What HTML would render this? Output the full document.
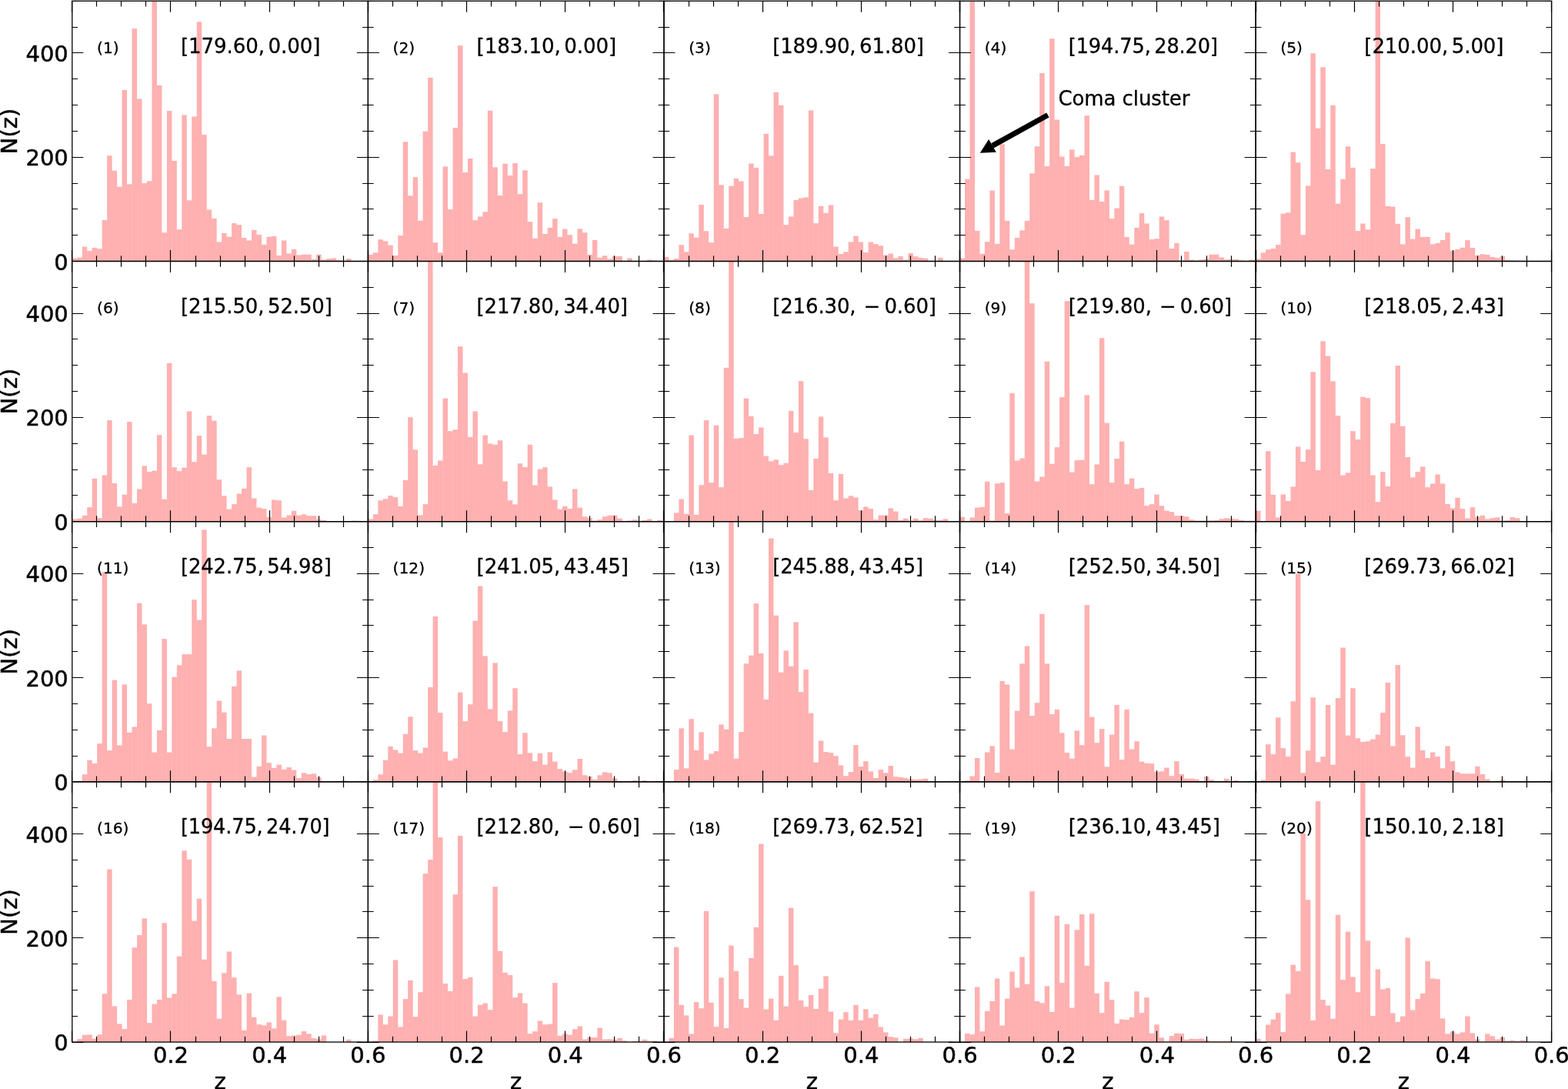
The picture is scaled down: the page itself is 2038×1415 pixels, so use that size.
<!DOCTYPE html>
<html lang="en"><head><meta charset="utf-8"><title>N(z) histograms</title>
<style>html,body{margin:0;padding:0;background:#fff}body{width:2038px;height:1415px;overflow:hidden}svg{display:block}text{font-family:"DejaVu Sans","Liberation Sans",sans-serif;fill:#000}.t{font-size:29.00px;stroke:#000;stroke-width:.5px}.l{font-size:26.00px;stroke:#000;stroke-width:.3px;letter-spacing:-.1px}.n{font-size:20.20px;stroke:#000;stroke-width:.3px}.b rect{fill:#ff0000;fill-opacity:.31}.sp{fill:none;stroke:#000;stroke-width:1.3}.mj{stroke:#000;stroke-width:1.2;fill:none}.mn{stroke:#000;stroke-width:1.15;fill:none}</style></head><body>
<svg width="2038" height="1415" viewBox="0 0 2038 1415">
<rect width="2038" height="1415" fill="#fff"/>
<g class="b">
<rect x="93.80" y="335.76" width="6.48" height="3.72"/>
<rect x="100.28" y="334.74" width="6.48" height="4.73"/>
<rect x="106.76" y="320.54" width="6.48" height="18.94"/>
<rect x="113.23" y="325.95" width="6.48" height="13.53"/>
<rect x="119.71" y="321.89" width="6.48" height="17.59"/>
<rect x="126.19" y="323.24" width="6.48" height="16.23"/>
<rect x="132.67" y="286.04" width="6.48" height="53.43"/>
<rect x="139.15" y="202.18" width="6.48" height="137.30"/>
<rect x="145.62" y="221.79" width="6.48" height="117.68"/>
<rect x="152.10" y="242.76" width="6.48" height="96.72"/>
<rect x="158.58" y="116.96" width="6.48" height="222.52"/>
<rect x="165.06" y="239.38" width="6.48" height="100.10"/>
<rect x="171.54" y="37.15" width="6.48" height="302.33"/>
<rect x="178.01" y="128.45" width="6.48" height="211.02"/>
<rect x="184.49" y="238.02" width="6.48" height="101.45"/>
<rect x="190.97" y="235.32" width="6.48" height="104.16"/>
<rect x="197.45" y="1.30" width="6.48" height="338.18"/>
<rect x="203.93" y="110.87" width="6.48" height="228.61"/>
<rect x="210.40" y="302.28" width="6.48" height="37.20"/>
<rect x="216.88" y="144.01" width="6.48" height="195.47"/>
<rect x="223.36" y="208.94" width="6.48" height="130.54"/>
<rect x="229.84" y="298.22" width="6.48" height="41.26"/>
<rect x="236.32" y="149.42" width="6.48" height="190.05"/>
<rect x="242.79" y="260.34" width="6.48" height="79.13"/>
<rect x="249.27" y="151.45" width="6.48" height="188.03"/>
<rect x="255.75" y="28.35" width="6.48" height="311.12"/>
<rect x="262.23" y="175.12" width="6.48" height="164.35"/>
<rect x="268.71" y="272.52" width="6.48" height="66.96"/>
<rect x="275.18" y="284.01" width="6.48" height="55.46"/>
<rect x="281.66" y="314.45" width="6.48" height="25.02"/>
<rect x="288.14" y="302.95" width="6.48" height="36.52"/>
<rect x="294.62" y="307.69" width="6.48" height="31.79"/>
<rect x="301.10" y="290.10" width="6.48" height="49.37"/>
<rect x="307.57" y="292.13" width="6.48" height="47.34"/>
<rect x="314.05" y="309.04" width="6.48" height="30.44"/>
<rect x="320.53" y="312.42" width="6.48" height="27.05"/>
<rect x="327.01" y="298.89" width="6.48" height="40.58"/>
<rect x="333.49" y="304.98" width="6.48" height="34.49"/>
<rect x="339.96" y="317.83" width="6.48" height="21.64"/>
<rect x="346.44" y="307.69" width="6.48" height="31.79"/>
<rect x="352.92" y="307.01" width="6.48" height="32.46"/>
<rect x="359.40" y="332.04" width="6.48" height="7.44"/>
<rect x="365.88" y="312.42" width="6.48" height="27.05"/>
<rect x="372.35" y="329.33" width="6.48" height="10.15"/>
<rect x="378.83" y="323.92" width="6.48" height="15.56"/>
<rect x="385.31" y="331.36" width="6.48" height="8.12"/>
<rect x="391.79" y="330.68" width="6.48" height="8.79"/>
<rect x="398.27" y="330.68" width="6.48" height="8.79"/>
<rect x="404.74" y="336.77" width="6.48" height="2.71"/>
<rect x="411.22" y="330.68" width="6.48" height="8.79"/>
<rect x="417.70" y="337.45" width="6.48" height="2.03"/>
<rect x="424.18" y="336.09" width="6.48" height="3.38"/>
<rect x="430.66" y="335.42" width="6.48" height="4.06"/>
<rect x="437.13" y="338.12" width="6.48" height="1.35"/>
<rect x="450.09" y="336.09" width="6.48" height="3.38"/>
</g>
<path class="mj" d="M93.50 339.48v-14.50M93.50 1.30v14.50M221.50 339.48v-14.50M221.50 1.30v14.50M350.50 339.48v-14.50M350.50 1.30v14.50M478.50 339.48v-14.50M478.50 1.30v14.50M93.80 339.50h14.50M478.38 339.50h-14.50M93.80 204.50h14.50M478.38 204.50h-14.50M93.80 68.50h14.50M478.38 68.50h-14.50"/>
<path class="mn" d="M125.50 339.48v-7.30M125.50 1.30v7.30M157.50 339.48v-7.30M157.50 1.30v7.30M189.50 339.48v-7.30M189.50 1.30v7.30M254.50 339.48v-7.30M254.50 1.30v7.30M286.50 339.48v-7.30M286.50 1.30v7.30M318.50 339.48v-7.30M318.50 1.30v7.30M382.50 339.48v-7.30M382.50 1.30v7.30M414.50 339.48v-7.30M414.50 1.30v7.30M446.50 339.48v-7.30M446.50 1.30v7.30M93.80 305.50h7.30M478.38 305.50h-7.30M93.80 271.50h7.30M478.38 271.50h-7.30M93.80 238.50h7.30M478.38 238.50h-7.30M93.80 170.50h7.30M478.38 170.50h-7.30M93.80 136.50h7.30M478.38 136.50h-7.30M93.80 102.50h7.30M478.38 102.50h-7.30M93.80 35.50h7.30M478.38 35.50h-7.30M93.80 1.50h7.30M478.38 1.50h-7.30"/>
<rect class="sp" x="93.80" y="1.30" width="384.58" height="338.18"/>
<text class="n" x="126.00" y="68.80">(1)</text>
<text class="l" transform="translate(235.00 68.65) scale(1.0034 1.000)">[179.60,<tspan dx="4.6">0.00]</tspan></text>
<text class="t" text-anchor="end" x="88.80" y="350.58">0</text>
<text class="t" text-anchor="end" x="88.80" y="215.31">200</text>
<text class="t" text-anchor="end" x="88.80" y="80.03">400</text>
<text class="t" text-anchor="middle" transform="translate(22.00 170.39) rotate(-90)">N(z)</text>
<g class="b">
<rect x="478.38" y="330.95" width="6.48" height="8.52"/>
<rect x="484.86" y="328.25" width="6.48" height="11.23"/>
<rect x="491.34" y="311.14" width="6.48" height="28.34"/>
<rect x="497.81" y="313.37" width="6.48" height="26.11"/>
<rect x="504.29" y="318.58" width="6.48" height="20.90"/>
<rect x="510.77" y="332.04" width="6.48" height="7.44"/>
<rect x="517.25" y="306.00" width="6.48" height="33.48"/>
<rect x="523.73" y="184.25" width="6.48" height="155.22"/>
<rect x="530.20" y="254.25" width="6.48" height="85.22"/>
<rect x="536.68" y="230.24" width="6.48" height="109.23"/>
<rect x="543.16" y="286.72" width="6.48" height="52.76"/>
<rect x="549.64" y="170.66" width="6.48" height="168.82"/>
<rect x="556.12" y="100.93" width="6.48" height="238.55"/>
<rect x="562.59" y="315.13" width="6.48" height="24.35"/>
<rect x="569.07" y="328.25" width="6.48" height="11.23"/>
<rect x="575.55" y="216.38" width="6.48" height="123.10"/>
<rect x="582.03" y="272.04" width="6.48" height="67.43"/>
<rect x="588.51" y="165.99" width="6.48" height="173.48"/>
<rect x="594.98" y="59.13" width="6.48" height="280.35"/>
<rect x="601.46" y="224.09" width="6.48" height="115.39"/>
<rect x="607.94" y="206.03" width="6.48" height="133.44"/>
<rect x="614.42" y="286.18" width="6.48" height="53.30"/>
<rect x="620.90" y="281.44" width="6.48" height="58.03"/>
<rect x="627.37" y="275.29" width="6.48" height="64.19"/>
<rect x="633.85" y="143.74" width="6.48" height="195.74"/>
<rect x="640.33" y="217.39" width="6.48" height="122.08"/>
<rect x="646.81" y="254.05" width="6.48" height="85.42"/>
<rect x="653.29" y="212.73" width="6.48" height="126.75"/>
<rect x="659.76" y="228.08" width="6.48" height="111.39"/>
<rect x="666.24" y="211.98" width="6.48" height="127.49"/>
<rect x="672.72" y="252.29" width="6.48" height="87.18"/>
<rect x="679.20" y="221.38" width="6.48" height="118.09"/>
<rect x="685.68" y="288.14" width="6.48" height="51.33"/>
<rect x="692.15" y="309.72" width="6.48" height="29.76"/>
<rect x="698.63" y="263.18" width="6.48" height="76.29"/>
<rect x="705.11" y="303.97" width="6.48" height="35.51"/>
<rect x="711.59" y="295.85" width="6.48" height="43.62"/>
<rect x="718.07" y="284.22" width="6.48" height="55.26"/>
<rect x="724.54" y="307.96" width="6.48" height="31.52"/>
<rect x="731.02" y="297.54" width="6.48" height="41.93"/>
<rect x="737.50" y="305.25" width="6.48" height="34.22"/>
<rect x="743.98" y="316.61" width="6.48" height="22.86"/>
<rect x="750.46" y="297.34" width="6.48" height="42.14"/>
<rect x="756.93" y="302.28" width="6.48" height="37.20"/>
<rect x="763.41" y="330.95" width="6.48" height="8.52"/>
<rect x="769.89" y="311.88" width="6.48" height="27.60"/>
<rect x="776.37" y="334.88" width="6.48" height="4.60"/>
<rect x="782.85" y="332.17" width="6.48" height="7.30"/>
<rect x="789.32" y="336.43" width="6.48" height="3.04"/>
<rect x="795.80" y="332.91" width="6.48" height="6.56"/>
<rect x="802.28" y="332.91" width="6.48" height="6.56"/>
<rect x="815.24" y="335.42" width="6.48" height="4.06"/>
<rect x="841.15" y="337.45" width="6.48" height="2.03"/>
<rect x="847.63" y="338.46" width="6.48" height="1.01"/>
</g>
<path class="mj" d="M478.50 339.48v-14.50M478.50 1.30v14.50M606.50 339.48v-14.50M606.50 1.30v14.50M734.50 339.48v-14.50M734.50 1.30v14.50M862.50 339.48v-14.50M862.50 1.30v14.50M478.38 339.50h14.50M862.96 339.50h-14.50M478.38 204.50h14.50M862.96 204.50h-14.50M478.38 68.50h14.50M862.96 68.50h-14.50"/>
<path class="mn" d="M510.50 339.48v-7.30M510.50 1.30v7.30M542.50 339.48v-7.30M542.50 1.30v7.30M574.50 339.48v-7.30M574.50 1.30v7.30M638.50 339.48v-7.30M638.50 1.30v7.30M670.50 339.48v-7.30M670.50 1.30v7.30M702.50 339.48v-7.30M702.50 1.30v7.30M766.50 339.48v-7.30M766.50 1.30v7.30M798.50 339.48v-7.30M798.50 1.30v7.30M830.50 339.48v-7.30M830.50 1.30v7.30M478.38 305.50h7.30M862.96 305.50h-7.30M478.38 271.50h7.30M862.96 271.50h-7.30M478.38 238.50h7.30M862.96 238.50h-7.30M478.38 170.50h7.30M862.96 170.50h-7.30M478.38 136.50h7.30M862.96 136.50h-7.30M478.38 102.50h7.30M862.96 102.50h-7.30M478.38 35.50h7.30M862.96 35.50h-7.30M478.38 1.50h7.30M862.96 1.50h-7.30"/>
<rect class="sp" x="478.38" y="1.30" width="384.58" height="338.18"/>
<text class="n" x="510.58" y="68.80">(2)</text>
<text class="l" transform="translate(619.58 68.65) scale(1.0042 1.000)">[183.10,<tspan dx="4.6">0.00]</tspan></text>
<g class="b">
<rect x="862.96" y="333.93" width="6.48" height="5.55"/>
<rect x="869.44" y="337.45" width="6.48" height="2.03"/>
<rect x="875.92" y="335.89" width="6.48" height="3.58"/>
<rect x="882.39" y="318.10" width="6.48" height="21.37"/>
<rect x="888.87" y="327.30" width="6.48" height="12.17"/>
<rect x="895.35" y="303.22" width="6.48" height="36.25"/>
<rect x="901.83" y="308.70" width="6.48" height="30.77"/>
<rect x="908.31" y="265.89" width="6.48" height="73.59"/>
<rect x="914.78" y="300.25" width="6.48" height="39.23"/>
<rect x="921.26" y="315.13" width="6.48" height="24.35"/>
<rect x="927.74" y="122.43" width="6.48" height="217.04"/>
<rect x="934.22" y="240.19" width="6.48" height="99.29"/>
<rect x="940.70" y="296.86" width="6.48" height="42.61"/>
<rect x="947.17" y="241.67" width="6.48" height="97.80"/>
<rect x="953.65" y="232.00" width="6.48" height="107.47"/>
<rect x="960.13" y="235.45" width="6.48" height="104.02"/>
<rect x="966.61" y="281.99" width="6.48" height="57.49"/>
<rect x="973.09" y="212.46" width="6.48" height="127.02"/>
<rect x="979.56" y="217.93" width="6.48" height="121.54"/>
<rect x="986.04" y="277.99" width="6.48" height="61.48"/>
<rect x="992.52" y="173.90" width="6.48" height="165.57"/>
<rect x="999.00" y="202.31" width="6.48" height="137.16"/>
<rect x="1005.48" y="119.93" width="6.48" height="219.54"/>
<rect x="1011.95" y="136.77" width="6.48" height="202.70"/>
<rect x="1018.43" y="292.13" width="6.48" height="47.34"/>
<rect x="1024.91" y="281.44" width="6.48" height="58.03"/>
<rect x="1031.39" y="259.94" width="6.48" height="79.54"/>
<rect x="1037.87" y="257.50" width="6.48" height="81.97"/>
<rect x="1044.34" y="256.49" width="6.48" height="82.99"/>
<rect x="1050.82" y="143.47" width="6.48" height="196.01"/>
<rect x="1057.30" y="290.10" width="6.48" height="49.37"/>
<rect x="1063.78" y="267.85" width="6.48" height="71.63"/>
<rect x="1070.26" y="276.78" width="6.48" height="62.70"/>
<rect x="1076.73" y="266.43" width="6.48" height="73.05"/>
<rect x="1083.21" y="320.54" width="6.48" height="18.94"/>
<rect x="1089.69" y="330.01" width="6.48" height="9.47"/>
<rect x="1096.17" y="327.30" width="6.48" height="12.17"/>
<rect x="1102.65" y="314.45" width="6.48" height="25.02"/>
<rect x="1109.12" y="306.67" width="6.48" height="32.80"/>
<rect x="1115.60" y="314.45" width="6.48" height="25.02"/>
<rect x="1122.08" y="327.98" width="6.48" height="11.50"/>
<rect x="1128.56" y="314.45" width="6.48" height="25.02"/>
<rect x="1135.04" y="317.16" width="6.48" height="22.32"/>
<rect x="1141.51" y="319.32" width="6.48" height="20.16"/>
<rect x="1147.99" y="331.70" width="6.48" height="7.78"/>
<rect x="1154.47" y="329.47" width="6.48" height="10.01"/>
<rect x="1160.95" y="335.42" width="6.48" height="4.06"/>
<rect x="1167.43" y="332.91" width="6.48" height="6.56"/>
<rect x="1173.90" y="337.45" width="6.48" height="2.03"/>
<rect x="1180.38" y="328.99" width="6.48" height="10.48"/>
<rect x="1186.86" y="333.18" width="6.48" height="6.29"/>
<rect x="1193.34" y="334.88" width="6.48" height="4.60"/>
<rect x="1199.82" y="335.62" width="6.48" height="3.86"/>
<rect x="1219.25" y="334.88" width="6.48" height="4.60"/>
</g>
<path class="mj" d="M862.50 339.48v-14.50M862.50 1.30v14.50M991.50 339.48v-14.50M991.50 1.30v14.50M1119.50 339.48v-14.50M1119.50 1.30v14.50M1247.50 339.48v-14.50M1247.50 1.30v14.50M862.96 339.50h14.50M1247.54 339.50h-14.50M862.96 204.50h14.50M1247.54 204.50h-14.50M862.96 68.50h14.50M1247.54 68.50h-14.50"/>
<path class="mn" d="M895.50 339.48v-7.30M895.50 1.30v7.30M927.50 339.48v-7.30M927.50 1.30v7.30M959.50 339.48v-7.30M959.50 1.30v7.30M1023.50 339.48v-7.30M1023.50 1.30v7.30M1055.50 339.48v-7.30M1055.50 1.30v7.30M1087.50 339.48v-7.30M1087.50 1.30v7.30M1151.50 339.48v-7.30M1151.50 1.30v7.30M1183.50 339.48v-7.30M1183.50 1.30v7.30M1215.50 339.48v-7.30M1215.50 1.30v7.30M862.96 305.50h7.30M1247.54 305.50h-7.30M862.96 271.50h7.30M1247.54 271.50h-7.30M862.96 238.50h7.30M1247.54 238.50h-7.30M862.96 170.50h7.30M1247.54 170.50h-7.30M862.96 136.50h7.30M1247.54 136.50h-7.30M862.96 102.50h7.30M1247.54 102.50h-7.30M862.96 35.50h7.30M1247.54 35.50h-7.30M862.96 1.50h7.30M1247.54 1.50h-7.30"/>
<rect class="sp" x="862.96" y="1.30" width="384.58" height="338.18"/>
<text class="n" x="895.16" y="68.80">(3)</text>
<text class="l" transform="translate(1004.16 68.65) scale(0.9981 1.000)">[189.90,<tspan dx="4.6">61.80]</tspan></text>
<g class="b">
<rect x="1247.54" y="335.62" width="6.48" height="3.86"/>
<rect x="1254.02" y="232.75" width="6.48" height="106.73"/>
<rect x="1260.50" y="1.30" width="6.48" height="338.18"/>
<rect x="1266.97" y="300.04" width="6.48" height="39.43"/>
<rect x="1273.45" y="329.74" width="6.48" height="9.74"/>
<rect x="1279.93" y="314.11" width="6.48" height="25.36"/>
<rect x="1286.41" y="247.56" width="6.48" height="91.92"/>
<rect x="1292.89" y="316.82" width="6.48" height="22.66"/>
<rect x="1299.36" y="187.30" width="6.48" height="152.18"/>
<rect x="1305.84" y="286.92" width="6.48" height="52.55"/>
<rect x="1312.32" y="324.26" width="6.48" height="15.22"/>
<rect x="1318.80" y="308.90" width="6.48" height="30.57"/>
<rect x="1325.28" y="299.30" width="6.48" height="40.18"/>
<rect x="1331.75" y="286.92" width="6.48" height="52.55"/>
<rect x="1338.23" y="225.31" width="6.48" height="114.17"/>
<rect x="1344.71" y="190.20" width="6.48" height="149.27"/>
<rect x="1351.19" y="94.97" width="6.48" height="244.50"/>
<rect x="1357.67" y="215.91" width="6.48" height="123.57"/>
<rect x="1364.14" y="50.20" width="6.48" height="289.27"/>
<rect x="1370.62" y="155.58" width="6.48" height="183.90"/>
<rect x="1377.10" y="203.53" width="6.48" height="135.95"/>
<rect x="1383.58" y="215.91" width="6.48" height="123.57"/>
<rect x="1390.06" y="194.40" width="6.48" height="145.08"/>
<rect x="1396.53" y="204.07" width="6.48" height="135.41"/>
<rect x="1403.01" y="201.84" width="6.48" height="137.64"/>
<rect x="1409.49" y="150.16" width="6.48" height="189.31"/>
<rect x="1415.97" y="259.94" width="6.48" height="79.54"/>
<rect x="1422.45" y="227.54" width="6.48" height="111.94"/>
<rect x="1428.92" y="261.97" width="6.48" height="77.51"/>
<rect x="1435.40" y="247.36" width="6.48" height="92.12"/>
<rect x="1441.88" y="284.22" width="6.48" height="55.26"/>
<rect x="1448.36" y="270.62" width="6.48" height="68.85"/>
<rect x="1454.84" y="241.67" width="6.48" height="97.80"/>
<rect x="1461.31" y="307.96" width="6.48" height="31.52"/>
<rect x="1467.79" y="317.56" width="6.48" height="21.91"/>
<rect x="1474.27" y="295.85" width="6.48" height="43.62"/>
<rect x="1480.75" y="277.05" width="6.48" height="62.43"/>
<rect x="1487.23" y="290.37" width="6.48" height="49.10"/>
<rect x="1493.70" y="311.14" width="6.48" height="28.34"/>
<rect x="1500.18" y="310.19" width="6.48" height="29.29"/>
<rect x="1506.66" y="281.44" width="6.48" height="58.03"/>
<rect x="1513.14" y="286.18" width="6.48" height="53.30"/>
<rect x="1519.62" y="323.04" width="6.48" height="16.44"/>
<rect x="1526.09" y="315.87" width="6.48" height="23.60"/>
<rect x="1532.57" y="338.46" width="6.48" height="1.01"/>
<rect x="1539.05" y="326.96" width="6.48" height="12.51"/>
<rect x="1545.53" y="337.65" width="6.48" height="1.83"/>
<rect x="1552.01" y="338.46" width="6.48" height="1.01"/>
<rect x="1558.48" y="337.45" width="6.48" height="2.03"/>
<rect x="1564.96" y="336.43" width="6.48" height="3.04"/>
<rect x="1571.44" y="330.68" width="6.48" height="8.79"/>
<rect x="1577.92" y="330.68" width="6.48" height="8.79"/>
<rect x="1584.40" y="334.40" width="6.48" height="5.07"/>
<rect x="1590.87" y="337.11" width="6.48" height="2.37"/>
<rect x="1597.35" y="337.11" width="6.48" height="2.37"/>
<rect x="1603.83" y="336.77" width="6.48" height="2.71"/>
<rect x="1610.31" y="338.46" width="6.48" height="1.01"/>
<rect x="1623.26" y="337.45" width="6.48" height="2.03"/>
<rect x="1629.74" y="338.12" width="2.38" height="1.35"/>
</g>
<path class="mj" d="M1247.50 339.48v-14.50M1247.50 1.30v14.50M1375.50 339.48v-14.50M1375.50 1.30v14.50M1503.50 339.48v-14.50M1503.50 1.30v14.50M1632.50 339.48v-14.50M1632.50 1.30v14.50M1247.54 339.50h14.50M1632.12 339.50h-14.50M1247.54 204.50h14.50M1632.12 204.50h-14.50M1247.54 68.50h14.50M1632.12 68.50h-14.50"/>
<path class="mn" d="M1279.50 339.48v-7.30M1279.50 1.30v7.30M1311.50 339.48v-7.30M1311.50 1.30v7.30M1343.50 339.48v-7.30M1343.50 1.30v7.30M1407.50 339.48v-7.30M1407.50 1.30v7.30M1439.50 339.48v-7.30M1439.50 1.30v7.30M1471.50 339.48v-7.30M1471.50 1.30v7.30M1535.50 339.48v-7.30M1535.50 1.30v7.30M1568.50 339.48v-7.30M1568.50 1.30v7.30M1600.50 339.48v-7.30M1600.50 1.30v7.30M1247.54 305.50h7.30M1632.12 305.50h-7.30M1247.54 271.50h7.30M1632.12 271.50h-7.30M1247.54 238.50h7.30M1632.12 238.50h-7.30M1247.54 170.50h7.30M1632.12 170.50h-7.30M1247.54 136.50h7.30M1632.12 136.50h-7.30M1247.54 102.50h7.30M1632.12 102.50h-7.30M1247.54 35.50h7.30M1632.12 35.50h-7.30M1247.54 1.50h7.30M1632.12 1.50h-7.30"/>
<rect class="sp" x="1247.54" y="1.30" width="384.58" height="338.18"/>
<text class="n" x="1279.74" y="68.80">(4)</text>
<text class="l" transform="translate(1388.74 68.65) scale(0.9852 1.000)">[194.75,<tspan dx="4.6">28.20]</tspan></text>
<g class="b">
<rect x="1632.12" y="336.43" width="6.48" height="3.04"/>
<rect x="1638.60" y="328.25" width="6.48" height="11.23"/>
<rect x="1645.08" y="324.26" width="6.48" height="15.22"/>
<rect x="1651.55" y="323.04" width="6.48" height="16.44"/>
<rect x="1658.03" y="318.10" width="6.48" height="21.37"/>
<rect x="1664.51" y="277.52" width="6.48" height="61.95"/>
<rect x="1670.99" y="276.30" width="6.48" height="63.17"/>
<rect x="1677.47" y="197.64" width="6.48" height="141.83"/>
<rect x="1683.94" y="211.24" width="6.48" height="128.24"/>
<rect x="1690.42" y="305.25" width="6.48" height="34.22"/>
<rect x="1696.90" y="241.40" width="6.48" height="98.07"/>
<rect x="1703.38" y="69.27" width="6.48" height="270.20"/>
<rect x="1709.86" y="166.74" width="6.48" height="172.74"/>
<rect x="1716.33" y="87.33" width="6.48" height="252.14"/>
<rect x="1722.81" y="219.90" width="6.48" height="119.58"/>
<rect x="1729.29" y="136.77" width="6.48" height="202.70"/>
<rect x="1735.77" y="264.67" width="6.48" height="74.80"/>
<rect x="1742.25" y="232.75" width="6.48" height="106.73"/>
<rect x="1748.72" y="190.20" width="6.48" height="149.27"/>
<rect x="1755.20" y="217.93" width="6.48" height="121.54"/>
<rect x="1761.68" y="300.04" width="6.48" height="39.43"/>
<rect x="1768.16" y="290.37" width="6.48" height="49.10"/>
<rect x="1774.64" y="298.29" width="6.48" height="41.19"/>
<rect x="1781.11" y="219.15" width="6.48" height="120.32"/>
<rect x="1787.59" y="1.30" width="6.48" height="338.18"/>
<rect x="1794.07" y="186.96" width="6.48" height="152.52"/>
<rect x="1800.55" y="267.85" width="6.48" height="71.63"/>
<rect x="1807.03" y="268.59" width="6.48" height="70.88"/>
<rect x="1813.50" y="290.85" width="6.48" height="48.63"/>
<rect x="1819.98" y="317.36" width="6.48" height="22.12"/>
<rect x="1826.46" y="282.19" width="6.48" height="57.29"/>
<rect x="1832.94" y="310.66" width="6.48" height="28.81"/>
<rect x="1839.42" y="297.54" width="6.48" height="41.93"/>
<rect x="1845.89" y="307.96" width="6.48" height="31.52"/>
<rect x="1852.37" y="307.96" width="6.48" height="31.52"/>
<rect x="1858.85" y="317.36" width="6.48" height="22.12"/>
<rect x="1865.33" y="315.87" width="6.48" height="23.60"/>
<rect x="1871.81" y="311.88" width="6.48" height="27.60"/>
<rect x="1878.28" y="302.28" width="6.48" height="37.20"/>
<rect x="1884.76" y="325.75" width="6.48" height="13.73"/>
<rect x="1891.24" y="323.99" width="6.48" height="15.49"/>
<rect x="1897.72" y="321.82" width="6.48" height="17.65"/>
<rect x="1904.20" y="312.15" width="6.48" height="27.32"/>
<rect x="1910.67" y="322.03" width="6.48" height="17.45"/>
<rect x="1917.15" y="331.90" width="6.48" height="7.58"/>
<rect x="1923.63" y="330.21" width="6.48" height="9.27"/>
<rect x="1930.11" y="330.95" width="6.48" height="8.52"/>
<rect x="1936.59" y="333.93" width="6.48" height="5.55"/>
<rect x="1943.06" y="335.15" width="6.48" height="4.33"/>
<rect x="1949.54" y="332.91" width="6.48" height="6.56"/>
<rect x="1956.02" y="337.65" width="6.48" height="1.83"/>
<rect x="1962.50" y="338.39" width="6.48" height="1.08"/>
<rect x="1968.98" y="338.60" width="6.48" height="0.88"/>
<rect x="1975.45" y="338.80" width="6.48" height="0.68"/>
</g>
<path class="mj" d="M1632.50 339.48v-14.50M1632.50 1.30v14.50M1760.50 339.48v-14.50M1760.50 1.30v14.50M1888.50 339.48v-14.50M1888.50 1.30v14.50M2016.50 339.48v-14.50M2016.50 1.30v14.50M1632.12 339.50h14.50M2016.70 339.50h-14.50M1632.12 204.50h14.50M2016.70 204.50h-14.50M1632.12 68.50h14.50M2016.70 68.50h-14.50"/>
<path class="mn" d="M1664.50 339.48v-7.30M1664.50 1.30v7.30M1696.50 339.48v-7.30M1696.50 1.30v7.30M1728.50 339.48v-7.30M1728.50 1.30v7.30M1792.50 339.48v-7.30M1792.50 1.30v7.30M1824.50 339.48v-7.30M1824.50 1.30v7.30M1856.50 339.48v-7.30M1856.50 1.30v7.30M1920.50 339.48v-7.30M1920.50 1.30v7.30M1952.50 339.48v-7.30M1952.50 1.30v7.30M1984.50 339.48v-7.30M1984.50 1.30v7.30M1632.12 305.50h7.30M2016.70 305.50h-7.30M1632.12 271.50h7.30M2016.70 271.50h-7.30M1632.12 238.50h7.30M2016.70 238.50h-7.30M1632.12 170.50h7.30M2016.70 170.50h-7.30M1632.12 136.50h7.30M2016.70 136.50h-7.30M1632.12 102.50h7.30M2016.70 102.50h-7.30M1632.12 35.50h7.30M2016.70 35.50h-7.30M1632.12 1.50h7.30M2016.70 1.50h-7.30"/>
<rect class="sp" x="1632.12" y="1.30" width="384.58" height="338.18"/>
<text class="n" x="1664.32" y="68.80">(5)</text>
<text class="l" transform="translate(1773.32 68.65) scale(1.0028 1.000)">[210.00,<tspan dx="4.6">5.00]</tspan></text>
<g class="b">
<rect x="93.80" y="674.40" width="6.48" height="3.25"/>
<rect x="100.28" y="673.66" width="6.48" height="3.99"/>
<rect x="106.76" y="669.74" width="6.48" height="7.91"/>
<rect x="113.23" y="659.12" width="6.48" height="18.53"/>
<rect x="119.71" y="621.78" width="6.48" height="55.87"/>
<rect x="126.19" y="673.19" width="6.48" height="4.46"/>
<rect x="132.67" y="617.52" width="6.48" height="60.13"/>
<rect x="139.15" y="546.03" width="6.48" height="131.62"/>
<rect x="145.62" y="627.94" width="6.48" height="49.71"/>
<rect x="152.10" y="658.37" width="6.48" height="19.28"/>
<rect x="158.58" y="642.75" width="6.48" height="34.90"/>
<rect x="165.06" y="548.06" width="6.48" height="129.59"/>
<rect x="171.54" y="653.91" width="6.48" height="23.74"/>
<rect x="178.01" y="635.38" width="6.48" height="42.27"/>
<rect x="184.49" y="605.42" width="6.48" height="72.23"/>
<rect x="190.97" y="613.13" width="6.48" height="64.52"/>
<rect x="197.45" y="611.64" width="6.48" height="66.01"/>
<rect x="203.93" y="565.11" width="6.48" height="112.54"/>
<rect x="210.40" y="648.70" width="6.48" height="28.95"/>
<rect x="216.88" y="471.84" width="6.48" height="205.81"/>
<rect x="223.36" y="607.17" width="6.48" height="70.48"/>
<rect x="229.84" y="612.11" width="6.48" height="65.54"/>
<rect x="236.32" y="607.65" width="6.48" height="70.00"/>
<rect x="242.79" y="534.47" width="6.48" height="143.18"/>
<rect x="249.27" y="600.21" width="6.48" height="77.44"/>
<rect x="255.75" y="566.12" width="6.48" height="111.53"/>
<rect x="262.23" y="590.60" width="6.48" height="87.05"/>
<rect x="268.71" y="540.15" width="6.48" height="137.50"/>
<rect x="275.18" y="546.57" width="6.48" height="131.08"/>
<rect x="281.66" y="623.20" width="6.48" height="54.45"/>
<rect x="288.14" y="644.24" width="6.48" height="33.41"/>
<rect x="294.62" y="661.55" width="6.48" height="16.10"/>
<rect x="301.10" y="655.13" width="6.48" height="22.52"/>
<rect x="307.57" y="641.53" width="6.48" height="36.12"/>
<rect x="314.05" y="634.84" width="6.48" height="42.81"/>
<rect x="320.53" y="607.17" width="6.48" height="70.48"/>
<rect x="327.01" y="647.48" width="6.48" height="30.17"/>
<rect x="333.49" y="659.59" width="6.48" height="18.06"/>
<rect x="339.96" y="661.08" width="6.48" height="16.57"/>
<rect x="346.44" y="671.97" width="6.48" height="5.68"/>
<rect x="352.92" y="649.45" width="6.48" height="28.20"/>
<rect x="359.40" y="650.19" width="6.48" height="27.46"/>
<rect x="365.88" y="672.44" width="6.48" height="5.21"/>
<rect x="372.35" y="669.53" width="6.48" height="8.12"/>
<rect x="378.83" y="663.78" width="6.48" height="13.87"/>
<rect x="385.31" y="669.53" width="6.48" height="8.12"/>
<rect x="391.79" y="668.25" width="6.48" height="9.40"/>
<rect x="398.27" y="670.21" width="6.48" height="7.44"/>
<rect x="404.74" y="670.21" width="6.48" height="7.44"/>
<rect x="411.22" y="674.94" width="6.48" height="2.71"/>
<rect x="417.70" y="675.96" width="6.48" height="1.69"/>
<rect x="456.57" y="676.43" width="6.48" height="1.22"/>
<rect x="463.05" y="676.64" width="6.48" height="1.01"/>
</g>
<path class="mj" d="M93.50 677.65v-14.50M93.50 339.48v14.50M221.50 677.65v-14.50M221.50 339.48v14.50M350.50 677.65v-14.50M350.50 339.48v14.50M478.50 677.65v-14.50M478.50 339.48v14.50M93.80 677.50h14.50M478.38 677.50h-14.50M93.80 542.50h14.50M478.38 542.50h-14.50M93.80 407.50h14.50M478.38 407.50h-14.50"/>
<path class="mn" d="M125.50 677.65v-7.30M125.50 339.48v7.30M157.50 677.65v-7.30M157.50 339.48v7.30M189.50 677.65v-7.30M189.50 339.48v7.30M254.50 677.65v-7.30M254.50 339.48v7.30M286.50 677.65v-7.30M286.50 339.48v7.30M318.50 677.65v-7.30M318.50 339.48v7.30M382.50 677.65v-7.30M382.50 339.48v7.30M414.50 677.65v-7.30M414.50 339.48v7.30M446.50 677.65v-7.30M446.50 339.48v7.30M93.80 643.50h7.30M478.38 643.50h-7.30M93.80 610.50h7.30M478.38 610.50h-7.30M93.80 576.50h7.30M478.38 576.50h-7.30M93.80 508.50h7.30M478.38 508.50h-7.30M93.80 474.50h7.30M478.38 474.50h-7.30M93.80 440.50h7.30M478.38 440.50h-7.30M93.80 373.50h7.30M478.38 373.50h-7.30M93.80 339.50h7.30M478.38 339.50h-7.30"/>
<rect class="sp" x="93.80" y="339.48" width="384.58" height="338.18"/>
<text class="n" x="126.00" y="406.98">(6)</text>
<text class="l" transform="translate(235.00 407.48) scale(0.9989 1.000)">[215.50,<tspan dx="4.6">52.50]</tspan></text>
<text class="t" text-anchor="end" x="88.80" y="688.75">0</text>
<text class="t" text-anchor="end" x="88.80" y="553.48">200</text>
<text class="t" text-anchor="end" x="88.80" y="418.21">400</text>
<text class="t" text-anchor="middle" transform="translate(22.00 508.56) rotate(-90)">N(z)</text>
<g class="b">
<rect x="478.38" y="674.40" width="6.48" height="3.25"/>
<rect x="484.86" y="668.25" width="6.48" height="9.40"/>
<rect x="491.34" y="650.19" width="6.48" height="27.46"/>
<rect x="497.81" y="648.23" width="6.48" height="29.42"/>
<rect x="504.29" y="644.04" width="6.48" height="33.61"/>
<rect x="510.77" y="646.00" width="6.48" height="31.65"/>
<rect x="517.25" y="657.83" width="6.48" height="19.82"/>
<rect x="523.73" y="623.95" width="6.48" height="53.70"/>
<rect x="530.20" y="542.11" width="6.48" height="135.54"/>
<rect x="536.68" y="584.38" width="6.48" height="93.27"/>
<rect x="543.16" y="669.53" width="6.48" height="8.12"/>
<rect x="549.64" y="655.13" width="6.48" height="22.52"/>
<rect x="556.12" y="339.48" width="6.48" height="338.18"/>
<rect x="562.59" y="604.94" width="6.48" height="72.71"/>
<rect x="569.07" y="598.52" width="6.48" height="79.13"/>
<rect x="575.55" y="517.63" width="6.48" height="160.02"/>
<rect x="582.03" y="560.17" width="6.48" height="117.48"/>
<rect x="588.51" y="558.21" width="6.48" height="119.44"/>
<rect x="594.98" y="450.13" width="6.48" height="227.52"/>
<rect x="601.46" y="484.48" width="6.48" height="193.17"/>
<rect x="607.94" y="567.81" width="6.48" height="109.84"/>
<rect x="614.42" y="534.47" width="6.48" height="143.18"/>
<rect x="620.90" y="603.25" width="6.48" height="74.40"/>
<rect x="627.37" y="565.58" width="6.48" height="112.07"/>
<rect x="633.85" y="576.47" width="6.48" height="101.18"/>
<rect x="640.33" y="577.75" width="6.48" height="99.90"/>
<rect x="646.81" y="572.27" width="6.48" height="105.38"/>
<rect x="653.29" y="625.44" width="6.48" height="52.21"/>
<rect x="659.76" y="650.19" width="6.48" height="27.46"/>
<rect x="666.24" y="655.40" width="6.48" height="22.25"/>
<rect x="672.72" y="602.24" width="6.48" height="75.41"/>
<rect x="679.20" y="606.90" width="6.48" height="70.75"/>
<rect x="685.68" y="577.75" width="6.48" height="99.90"/>
<rect x="692.15" y="630.44" width="6.48" height="47.21"/>
<rect x="698.63" y="609.61" width="6.48" height="68.04"/>
<rect x="705.11" y="607.17" width="6.48" height="70.48"/>
<rect x="711.59" y="632.40" width="6.48" height="45.25"/>
<rect x="718.07" y="649.45" width="6.48" height="28.20"/>
<rect x="724.54" y="661.55" width="6.48" height="16.10"/>
<rect x="731.02" y="657.83" width="6.48" height="19.82"/>
<rect x="737.50" y="661.08" width="6.48" height="16.57"/>
<rect x="743.98" y="635.38" width="6.48" height="42.27"/>
<rect x="750.46" y="659.59" width="6.48" height="18.06"/>
<rect x="756.93" y="671.22" width="6.48" height="6.43"/>
<rect x="763.41" y="673.19" width="6.48" height="4.46"/>
<rect x="769.89" y="676.43" width="6.48" height="1.22"/>
<rect x="776.37" y="675.15" width="6.48" height="2.50"/>
<rect x="782.85" y="671.22" width="6.48" height="6.43"/>
<rect x="789.32" y="669.74" width="6.48" height="7.91"/>
<rect x="795.80" y="669.53" width="6.48" height="8.12"/>
<rect x="802.28" y="673.66" width="6.48" height="3.99"/>
<rect x="808.76" y="676.97" width="6.48" height="0.68"/>
<rect x="815.24" y="676.43" width="6.48" height="1.22"/>
<rect x="821.71" y="675.15" width="6.48" height="2.50"/>
<rect x="828.19" y="676.64" width="6.48" height="1.01"/>
<rect x="834.67" y="675.96" width="6.48" height="1.69"/>
<rect x="841.15" y="674.40" width="6.48" height="3.25"/>
<rect x="854.10" y="675.96" width="6.48" height="1.69"/>
</g>
<path class="mj" d="M478.50 677.65v-14.50M478.50 339.48v14.50M606.50 677.65v-14.50M606.50 339.48v14.50M734.50 677.65v-14.50M734.50 339.48v14.50M862.50 677.65v-14.50M862.50 339.48v14.50M478.38 677.50h14.50M862.96 677.50h-14.50M478.38 542.50h14.50M862.96 542.50h-14.50M478.38 407.50h14.50M862.96 407.50h-14.50"/>
<path class="mn" d="M510.50 677.65v-7.30M510.50 339.48v7.30M542.50 677.65v-7.30M542.50 339.48v7.30M574.50 677.65v-7.30M574.50 339.48v7.30M638.50 677.65v-7.30M638.50 339.48v7.30M670.50 677.65v-7.30M670.50 339.48v7.30M702.50 677.65v-7.30M702.50 339.48v7.30M766.50 677.65v-7.30M766.50 339.48v7.30M798.50 677.65v-7.30M798.50 339.48v7.30M830.50 677.65v-7.30M830.50 339.48v7.30M478.38 643.50h7.30M862.96 643.50h-7.30M478.38 610.50h7.30M862.96 610.50h-7.30M478.38 576.50h7.30M862.96 576.50h-7.30M478.38 508.50h7.30M862.96 508.50h-7.30M478.38 474.50h7.30M862.96 474.50h-7.30M478.38 440.50h7.30M862.96 440.50h-7.30M478.38 373.50h7.30M862.96 373.50h-7.30M478.38 339.50h7.30M862.96 339.50h-7.30"/>
<rect class="sp" x="478.38" y="339.48" width="384.58" height="338.18"/>
<text class="n" x="510.58" y="406.98">(7)</text>
<text class="l" transform="translate(619.58 407.48) scale(0.9958 1.000)">[217.80,<tspan dx="4.6">34.40]</tspan></text>
<g class="b">
<rect x="862.96" y="677.11" width="6.48" height="0.54"/>
<rect x="869.44" y="677.11" width="6.48" height="0.54"/>
<rect x="875.92" y="666.29" width="6.48" height="11.36"/>
<rect x="882.39" y="648.50" width="6.48" height="29.15"/>
<rect x="888.87" y="667.78" width="6.48" height="9.87"/>
<rect x="895.35" y="565.58" width="6.48" height="112.07"/>
<rect x="901.83" y="668.99" width="6.48" height="8.66"/>
<rect x="908.31" y="630.17" width="6.48" height="47.48"/>
<rect x="914.78" y="546.03" width="6.48" height="131.62"/>
<rect x="921.26" y="627.19" width="6.48" height="50.46"/>
<rect x="927.74" y="552.73" width="6.48" height="124.92"/>
<rect x="934.22" y="633.15" width="6.48" height="44.50"/>
<rect x="940.70" y="477.79" width="6.48" height="199.86"/>
<rect x="947.17" y="339.48" width="6.48" height="338.18"/>
<rect x="953.65" y="569.84" width="6.48" height="107.81"/>
<rect x="960.13" y="569.10" width="6.48" height="108.55"/>
<rect x="966.61" y="517.63" width="6.48" height="160.02"/>
<rect x="973.09" y="540.89" width="6.48" height="136.76"/>
<rect x="979.56" y="564.09" width="6.48" height="113.56"/>
<rect x="986.04" y="555.43" width="6.48" height="122.22"/>
<rect x="992.52" y="592.57" width="6.48" height="85.08"/>
<rect x="999.00" y="599.26" width="6.48" height="78.39"/>
<rect x="1005.48" y="597.23" width="6.48" height="80.42"/>
<rect x="1011.95" y="604.20" width="6.48" height="73.45"/>
<rect x="1018.43" y="601.70" width="6.48" height="75.95"/>
<rect x="1024.91" y="533.93" width="6.48" height="143.72"/>
<rect x="1031.39" y="562.13" width="6.48" height="115.52"/>
<rect x="1037.87" y="495.10" width="6.48" height="182.55"/>
<rect x="1044.34" y="570.31" width="6.48" height="107.34"/>
<rect x="1050.82" y="636.87" width="6.48" height="40.78"/>
<rect x="1057.30" y="596.01" width="6.48" height="81.64"/>
<rect x="1063.78" y="541.37" width="6.48" height="136.28"/>
<rect x="1070.26" y="568.35" width="6.48" height="109.30"/>
<rect x="1076.73" y="614.82" width="6.48" height="62.83"/>
<rect x="1083.21" y="650.19" width="6.48" height="27.46"/>
<rect x="1089.69" y="615.83" width="6.48" height="61.82"/>
<rect x="1096.17" y="647.48" width="6.48" height="30.17"/>
<rect x="1102.65" y="644.24" width="6.48" height="33.41"/>
<rect x="1109.12" y="646.27" width="6.48" height="31.38"/>
<rect x="1115.60" y="663.04" width="6.48" height="14.61"/>
<rect x="1122.08" y="658.37" width="6.48" height="19.28"/>
<rect x="1128.56" y="661.08" width="6.48" height="16.57"/>
<rect x="1135.04" y="675.15" width="6.48" height="2.50"/>
<rect x="1141.51" y="669.53" width="6.48" height="8.12"/>
<rect x="1147.99" y="669.74" width="6.48" height="7.91"/>
<rect x="1154.47" y="660.34" width="6.48" height="17.31"/>
<rect x="1160.95" y="664.53" width="6.48" height="13.12"/>
<rect x="1167.43" y="675.96" width="6.48" height="1.69"/>
<rect x="1173.90" y="673.66" width="6.48" height="3.99"/>
<rect x="1180.38" y="676.43" width="6.48" height="1.22"/>
<rect x="1186.86" y="673.66" width="6.48" height="3.99"/>
<rect x="1193.34" y="676.16" width="6.48" height="1.49"/>
<rect x="1199.82" y="673.19" width="6.48" height="4.46"/>
<rect x="1206.29" y="673.66" width="6.48" height="3.99"/>
<rect x="1212.77" y="675.96" width="6.48" height="1.69"/>
<rect x="1219.25" y="675.69" width="6.48" height="1.96"/>
<rect x="1225.73" y="674.27" width="6.48" height="3.38"/>
</g>
<path class="mj" d="M862.50 677.65v-14.50M862.50 339.48v14.50M991.50 677.65v-14.50M991.50 339.48v14.50M1119.50 677.65v-14.50M1119.50 339.48v14.50M1247.50 677.65v-14.50M1247.50 339.48v14.50M862.96 677.50h14.50M1247.54 677.50h-14.50M862.96 542.50h14.50M1247.54 542.50h-14.50M862.96 407.50h14.50M1247.54 407.50h-14.50"/>
<path class="mn" d="M895.50 677.65v-7.30M895.50 339.48v7.30M927.50 677.65v-7.30M927.50 339.48v7.30M959.50 677.65v-7.30M959.50 339.48v7.30M1023.50 677.65v-7.30M1023.50 339.48v7.30M1055.50 677.65v-7.30M1055.50 339.48v7.30M1087.50 677.65v-7.30M1087.50 339.48v7.30M1151.50 677.65v-7.30M1151.50 339.48v7.30M1183.50 677.65v-7.30M1183.50 339.48v7.30M1215.50 677.65v-7.30M1215.50 339.48v7.30M862.96 643.50h7.30M1247.54 643.50h-7.30M862.96 610.50h7.30M1247.54 610.50h-7.30M862.96 576.50h7.30M1247.54 576.50h-7.30M862.96 508.50h7.30M1247.54 508.50h-7.30M862.96 474.50h7.30M1247.54 474.50h-7.30M862.96 440.50h7.30M1247.54 440.50h-7.30M862.96 373.50h7.30M1247.54 373.50h-7.30M862.96 339.50h7.30M1247.54 339.50h-7.30"/>
<rect class="sp" x="862.96" y="339.48" width="384.58" height="338.18"/>
<text class="n" x="895.16" y="406.98">(8)</text>
<text class="l" transform="translate(1004.16 407.48) scale(0.9983 1.000)">[216.30,<tspan dx="10.1">−</tspan><tspan dx="5.2">0.60]</tspan></text>
<g class="b">
<rect x="1247.54" y="671.70" width="6.48" height="5.95"/>
<rect x="1260.50" y="672.44" width="6.48" height="5.21"/>
<rect x="1266.97" y="659.59" width="6.48" height="18.06"/>
<rect x="1273.45" y="658.85" width="6.48" height="18.80"/>
<rect x="1279.93" y="625.71" width="6.48" height="51.94"/>
<rect x="1286.41" y="676.43" width="6.48" height="1.22"/>
<rect x="1292.89" y="628.21" width="6.48" height="49.44"/>
<rect x="1299.36" y="627.19" width="6.48" height="50.46"/>
<rect x="1305.84" y="667.03" width="6.48" height="10.62"/>
<rect x="1312.32" y="510.93" width="6.48" height="166.72"/>
<rect x="1318.80" y="598.52" width="6.48" height="79.13"/>
<rect x="1325.28" y="595.54" width="6.48" height="82.11"/>
<rect x="1331.75" y="339.48" width="6.48" height="338.18"/>
<rect x="1338.23" y="394.26" width="6.48" height="283.39"/>
<rect x="1344.71" y="625.44" width="6.48" height="52.21"/>
<rect x="1351.19" y="619.55" width="6.48" height="58.10"/>
<rect x="1357.67" y="469.67" width="6.48" height="207.98"/>
<rect x="1364.14" y="602.71" width="6.48" height="74.94"/>
<rect x="1370.62" y="581.20" width="6.48" height="96.45"/>
<rect x="1377.10" y="516.14" width="6.48" height="161.51"/>
<rect x="1383.58" y="391.28" width="6.48" height="286.37"/>
<rect x="1390.06" y="613.60" width="6.48" height="64.05"/>
<rect x="1396.53" y="598.04" width="6.48" height="79.61"/>
<rect x="1403.01" y="597.77" width="6.48" height="79.88"/>
<rect x="1409.49" y="513.43" width="6.48" height="164.22"/>
<rect x="1415.97" y="629.16" width="6.48" height="48.49"/>
<rect x="1422.45" y="603.45" width="6.48" height="74.20"/>
<rect x="1428.92" y="439.24" width="6.48" height="238.41"/>
<rect x="1435.40" y="549.55" width="6.48" height="128.10"/>
<rect x="1441.88" y="627.19" width="6.48" height="50.46"/>
<rect x="1448.36" y="596.01" width="6.48" height="81.64"/>
<rect x="1454.84" y="573.56" width="6.48" height="104.09"/>
<rect x="1461.31" y="629.16" width="6.48" height="48.49"/>
<rect x="1467.79" y="621.51" width="6.48" height="56.14"/>
<rect x="1474.27" y="635.11" width="6.48" height="42.54"/>
<rect x="1480.75" y="633.89" width="6.48" height="43.76"/>
<rect x="1487.23" y="657.16" width="6.48" height="20.49"/>
<rect x="1493.70" y="655.13" width="6.48" height="22.52"/>
<rect x="1500.18" y="642.55" width="6.48" height="35.10"/>
<rect x="1506.66" y="657.16" width="6.48" height="20.49"/>
<rect x="1513.14" y="663.58" width="6.48" height="14.07"/>
<rect x="1519.62" y="665.07" width="6.48" height="12.58"/>
<rect x="1526.09" y="670.21" width="6.48" height="7.44"/>
<rect x="1532.57" y="670.21" width="6.48" height="7.44"/>
<rect x="1539.05" y="671.22" width="6.48" height="6.43"/>
<rect x="1545.53" y="675.15" width="6.48" height="2.50"/>
<rect x="1552.01" y="676.43" width="6.48" height="1.22"/>
<rect x="1558.48" y="676.43" width="6.48" height="1.22"/>
<rect x="1564.96" y="676.43" width="6.48" height="1.22"/>
<rect x="1571.44" y="676.16" width="6.48" height="1.49"/>
<rect x="1577.92" y="675.96" width="6.48" height="1.69"/>
<rect x="1584.40" y="674.20" width="6.48" height="3.45"/>
<rect x="1590.87" y="673.19" width="6.48" height="4.46"/>
<rect x="1597.35" y="673.93" width="6.48" height="3.72"/>
<rect x="1603.83" y="674.40" width="6.48" height="3.25"/>
<rect x="1610.31" y="675.96" width="6.48" height="1.69"/>
<rect x="1616.79" y="676.64" width="6.48" height="1.01"/>
<rect x="1623.26" y="676.64" width="6.48" height="1.01"/>
</g>
<path class="mj" d="M1247.50 677.65v-14.50M1247.50 339.48v14.50M1375.50 677.65v-14.50M1375.50 339.48v14.50M1503.50 677.65v-14.50M1503.50 339.48v14.50M1632.50 677.65v-14.50M1632.50 339.48v14.50M1247.54 677.50h14.50M1632.12 677.50h-14.50M1247.54 542.50h14.50M1632.12 542.50h-14.50M1247.54 407.50h14.50M1632.12 407.50h-14.50"/>
<path class="mn" d="M1279.50 677.65v-7.30M1279.50 339.48v7.30M1311.50 677.65v-7.30M1311.50 339.48v7.30M1343.50 677.65v-7.30M1343.50 339.48v7.30M1407.50 677.65v-7.30M1407.50 339.48v7.30M1439.50 677.65v-7.30M1439.50 339.48v7.30M1471.50 677.65v-7.30M1471.50 339.48v7.30M1535.50 677.65v-7.30M1535.50 339.48v7.30M1568.50 677.65v-7.30M1568.50 339.48v7.30M1600.50 677.65v-7.30M1600.50 339.48v7.30M1247.54 643.50h7.30M1632.12 643.50h-7.30M1247.54 610.50h7.30M1632.12 610.50h-7.30M1247.54 576.50h7.30M1632.12 576.50h-7.30M1247.54 508.50h7.30M1632.12 508.50h-7.30M1247.54 474.50h7.30M1632.12 474.50h-7.30M1247.54 440.50h7.30M1632.12 440.50h-7.30M1247.54 373.50h7.30M1632.12 373.50h-7.30M1247.54 339.50h7.30M1632.12 339.50h-7.30"/>
<rect class="sp" x="1247.54" y="339.48" width="384.58" height="338.18"/>
<text class="n" x="1279.74" y="406.98">(9)</text>
<text class="l" transform="translate(1388.74 407.48) scale(0.9966 1.000)">[219.80,<tspan dx="10.1">−</tspan><tspan dx="5.2">0.60]</tspan></text>
<g class="b">
<rect x="1632.12" y="663.78" width="6.48" height="13.87"/>
<rect x="1645.08" y="586.14" width="6.48" height="91.51"/>
<rect x="1651.55" y="642.75" width="6.48" height="34.90"/>
<rect x="1658.03" y="672.44" width="6.48" height="5.21"/>
<rect x="1664.51" y="642.55" width="6.48" height="35.10"/>
<rect x="1670.99" y="650.93" width="6.48" height="26.72"/>
<rect x="1677.47" y="632.40" width="6.48" height="45.25"/>
<rect x="1683.94" y="580.46" width="6.48" height="97.19"/>
<rect x="1690.42" y="600.01" width="6.48" height="77.64"/>
<rect x="1696.90" y="584.18" width="6.48" height="93.47"/>
<rect x="1703.38" y="483.27" width="6.48" height="194.38"/>
<rect x="1709.86" y="610.89" width="6.48" height="66.76"/>
<rect x="1716.33" y="443.43" width="6.48" height="234.22"/>
<rect x="1722.81" y="462.71" width="6.48" height="214.94"/>
<rect x="1729.29" y="495.37" width="6.48" height="182.28"/>
<rect x="1735.77" y="540.15" width="6.48" height="137.50"/>
<rect x="1742.25" y="617.52" width="6.48" height="60.13"/>
<rect x="1748.72" y="614.34" width="6.48" height="63.31"/>
<rect x="1755.20" y="560.17" width="6.48" height="117.48"/>
<rect x="1761.68" y="571.06" width="6.48" height="106.59"/>
<rect x="1768.16" y="515.66" width="6.48" height="161.99"/>
<rect x="1774.64" y="517.15" width="6.48" height="160.50"/>
<rect x="1781.11" y="617.52" width="6.48" height="60.13"/>
<rect x="1787.59" y="652.15" width="6.48" height="25.50"/>
<rect x="1794.07" y="613.13" width="6.48" height="64.52"/>
<rect x="1800.55" y="631.86" width="6.48" height="45.79"/>
<rect x="1807.03" y="550.02" width="6.48" height="127.63"/>
<rect x="1813.50" y="475.08" width="6.48" height="202.57"/>
<rect x="1819.98" y="553.74" width="6.48" height="123.91"/>
<rect x="1826.46" y="594.05" width="6.48" height="83.60"/>
<rect x="1832.94" y="620.30" width="6.48" height="57.35"/>
<rect x="1839.42" y="613.13" width="6.48" height="64.52"/>
<rect x="1845.89" y="606.43" width="6.48" height="71.22"/>
<rect x="1852.37" y="633.15" width="6.48" height="44.50"/>
<rect x="1858.85" y="628.41" width="6.48" height="49.24"/>
<rect x="1865.33" y="616.58" width="6.48" height="61.07"/>
<rect x="1871.81" y="628.41" width="6.48" height="49.24"/>
<rect x="1878.28" y="654.92" width="6.48" height="22.73"/>
<rect x="1884.76" y="660.34" width="6.48" height="17.31"/>
<rect x="1891.24" y="646.74" width="6.48" height="30.91"/>
<rect x="1897.72" y="661.08" width="6.48" height="16.57"/>
<rect x="1904.20" y="673.46" width="6.48" height="4.19"/>
<rect x="1910.67" y="659.12" width="6.48" height="18.53"/>
<rect x="1917.15" y="671.70" width="6.48" height="5.95"/>
<rect x="1923.63" y="669.74" width="6.48" height="7.91"/>
<rect x="1930.11" y="674.40" width="6.48" height="3.25"/>
<rect x="1936.59" y="673.19" width="6.48" height="4.46"/>
<rect x="1943.06" y="672.24" width="6.48" height="5.41"/>
<rect x="1949.54" y="676.43" width="6.48" height="1.22"/>
<rect x="1956.02" y="676.16" width="6.48" height="1.49"/>
<rect x="1962.50" y="671.97" width="6.48" height="5.68"/>
<rect x="1968.98" y="673.19" width="6.48" height="4.46"/>
<rect x="2007.84" y="676.64" width="6.48" height="1.01"/>
</g>
<path class="mj" d="M1632.50 677.65v-14.50M1632.50 339.48v14.50M1760.50 677.65v-14.50M1760.50 339.48v14.50M1888.50 677.65v-14.50M1888.50 339.48v14.50M2016.50 677.65v-14.50M2016.50 339.48v14.50M1632.12 677.50h14.50M2016.70 677.50h-14.50M1632.12 542.50h14.50M2016.70 542.50h-14.50M1632.12 407.50h14.50M2016.70 407.50h-14.50"/>
<path class="mn" d="M1664.50 677.65v-7.30M1664.50 339.48v7.30M1696.50 677.65v-7.30M1696.50 339.48v7.30M1728.50 677.65v-7.30M1728.50 339.48v7.30M1792.50 677.65v-7.30M1792.50 339.48v7.30M1824.50 677.65v-7.30M1824.50 339.48v7.30M1856.50 677.65v-7.30M1856.50 339.48v7.30M1920.50 677.65v-7.30M1920.50 339.48v7.30M1952.50 677.65v-7.30M1952.50 339.48v7.30M1984.50 677.65v-7.30M1984.50 339.48v7.30M1632.12 643.50h7.30M2016.70 643.50h-7.30M1632.12 610.50h7.30M2016.70 610.50h-7.30M1632.12 576.50h7.30M2016.70 576.50h-7.30M1632.12 508.50h7.30M2016.70 508.50h-7.30M1632.12 474.50h7.30M2016.70 474.50h-7.30M1632.12 440.50h7.30M2016.70 440.50h-7.30M1632.12 373.50h7.30M2016.70 373.50h-7.30M1632.12 339.50h7.30M2016.70 339.50h-7.30"/>
<rect class="sp" x="1632.12" y="339.48" width="384.58" height="338.18"/>
<text class="n" x="1664.32" y="406.98">(10)</text>
<text class="l" transform="translate(1773.32 407.48) scale(1.0054 1.000)">[218.05,<tspan dx="4.6">2.43]</tspan></text>
<g class="b">
<rect x="93.80" y="1015.49" width="6.48" height="0.34"/>
<rect x="100.28" y="1014.68" width="6.48" height="1.15"/>
<rect x="106.76" y="1006.22" width="6.48" height="9.60"/>
<rect x="113.23" y="987.69" width="6.48" height="28.14"/>
<rect x="119.71" y="991.88" width="6.48" height="23.94"/>
<rect x="126.19" y="966.18" width="6.48" height="49.64"/>
<rect x="132.67" y="743.32" width="6.48" height="272.50"/>
<rect x="139.15" y="975.11" width="6.48" height="40.72"/>
<rect x="145.62" y="883.60" width="6.48" height="132.23"/>
<rect x="152.10" y="968.41" width="6.48" height="47.41"/>
<rect x="158.58" y="889.48" width="6.48" height="126.34"/>
<rect x="165.06" y="951.84" width="6.48" height="63.98"/>
<rect x="171.54" y="944.40" width="6.48" height="71.42"/>
<rect x="178.01" y="783.63" width="6.48" height="232.19"/>
<rect x="184.49" y="811.36" width="6.48" height="204.46"/>
<rect x="190.97" y="914.24" width="6.48" height="101.59"/>
<rect x="197.45" y="977.54" width="6.48" height="38.28"/>
<rect x="203.93" y="948.87" width="6.48" height="66.96"/>
<rect x="210.40" y="830.17" width="6.48" height="185.66"/>
<rect x="216.88" y="977.54" width="6.48" height="38.28"/>
<rect x="223.36" y="879.61" width="6.48" height="136.22"/>
<rect x="229.84" y="864.25" width="6.48" height="151.57"/>
<rect x="236.32" y="850.19" width="6.48" height="165.64"/>
<rect x="242.79" y="850.19" width="6.48" height="165.64"/>
<rect x="249.27" y="779.17" width="6.48" height="236.65"/>
<rect x="255.75" y="805.68" width="6.48" height="210.14"/>
<rect x="262.23" y="688.40" width="6.48" height="327.42"/>
<rect x="268.71" y="970.17" width="6.48" height="45.65"/>
<rect x="275.18" y="946.36" width="6.48" height="69.46"/>
<rect x="281.66" y="910.52" width="6.48" height="105.31"/>
<rect x="288.14" y="925.60" width="6.48" height="90.23"/>
<rect x="294.62" y="960.03" width="6.48" height="55.80"/>
<rect x="301.10" y="891.71" width="6.48" height="124.11"/>
<rect x="307.57" y="871.42" width="6.48" height="144.40"/>
<rect x="314.05" y="960.03" width="6.48" height="55.80"/>
<rect x="320.53" y="960.03" width="6.48" height="55.80"/>
<rect x="327.01" y="1009.47" width="6.48" height="6.36"/>
<rect x="333.49" y="995.87" width="6.48" height="19.95"/>
<rect x="339.96" y="955.56" width="6.48" height="60.26"/>
<rect x="346.44" y="991.14" width="6.48" height="24.69"/>
<rect x="352.92" y="997.83" width="6.48" height="17.99"/>
<rect x="359.40" y="993.64" width="6.48" height="22.18"/>
<rect x="365.88" y="999.80" width="6.48" height="16.03"/>
<rect x="372.35" y="997.09" width="6.48" height="18.73"/>
<rect x="378.83" y="1000.54" width="6.48" height="15.29"/>
<rect x="385.31" y="1010.96" width="6.48" height="4.87"/>
<rect x="391.79" y="1004.26" width="6.48" height="11.57"/>
<rect x="398.27" y="1006.02" width="6.48" height="9.81"/>
<rect x="404.74" y="1005.27" width="6.48" height="10.55"/>
<rect x="411.22" y="1010.21" width="6.48" height="5.61"/>
<rect x="417.70" y="1014.88" width="6.48" height="0.95"/>
<rect x="424.18" y="1014.88" width="6.48" height="0.95"/>
<rect x="443.61" y="1014.20" width="6.48" height="1.62"/>
</g>
<path class="mj" d="M93.50 1015.83v-14.50M93.50 677.65v14.50M221.50 1015.83v-14.50M221.50 677.65v14.50M350.50 1015.83v-14.50M350.50 677.65v14.50M478.50 1015.83v-14.50M478.50 677.65v14.50M93.80 1015.50h14.50M478.38 1015.50h-14.50M93.80 880.50h14.50M478.38 880.50h-14.50M93.80 745.50h14.50M478.38 745.50h-14.50"/>
<path class="mn" d="M125.50 1015.83v-7.30M125.50 677.65v7.30M157.50 1015.83v-7.30M157.50 677.65v7.30M189.50 1015.83v-7.30M189.50 677.65v7.30M254.50 1015.83v-7.30M254.50 677.65v7.30M286.50 1015.83v-7.30M286.50 677.65v7.30M318.50 1015.83v-7.30M318.50 677.65v7.30M382.50 1015.83v-7.30M382.50 677.65v7.30M414.50 1015.83v-7.30M414.50 677.65v7.30M446.50 1015.83v-7.30M446.50 677.65v7.30M93.80 982.50h7.30M478.38 982.50h-7.30M93.80 948.50h7.30M478.38 948.50h-7.30M93.80 914.50h7.30M478.38 914.50h-7.30M93.80 846.50h7.30M478.38 846.50h-7.30M93.80 812.50h7.30M478.38 812.50h-7.30M93.80 779.50h7.30M478.38 779.50h-7.30M93.80 711.50h7.30M478.38 711.50h-7.30M93.80 677.50h7.30M478.38 677.50h-7.30"/>
<rect class="sp" x="93.80" y="677.65" width="384.58" height="338.18"/>
<text class="n" x="126.00" y="745.15">(11)</text>
<text class="l" transform="translate(235.00 745.15) scale(0.9927 1.000)">[242.75,<tspan dx="4.6">54.98]</tspan></text>
<text class="t" text-anchor="end" x="88.80" y="1026.92">0</text>
<text class="t" text-anchor="end" x="88.80" y="891.66">200</text>
<text class="t" text-anchor="end" x="88.80" y="756.39">400</text>
<text class="t" text-anchor="middle" transform="translate(22.00 846.74) rotate(-90)">N(z)</text>
<g class="b">
<rect x="478.38" y="1015.49" width="6.48" height="0.34"/>
<rect x="484.86" y="1013.19" width="6.48" height="2.64"/>
<rect x="491.34" y="1006.22" width="6.48" height="9.60"/>
<rect x="497.81" y="987.69" width="6.48" height="28.14"/>
<rect x="504.29" y="969.90" width="6.48" height="45.92"/>
<rect x="510.77" y="974.36" width="6.48" height="41.46"/>
<rect x="517.25" y="978.56" width="6.48" height="37.27"/>
<rect x="523.73" y="953.80" width="6.48" height="62.02"/>
<rect x="530.20" y="931.28" width="6.48" height="84.54"/>
<rect x="536.68" y="975.11" width="6.48" height="40.72"/>
<rect x="543.16" y="978.56" width="6.48" height="37.27"/>
<rect x="549.64" y="971.39" width="6.48" height="44.44"/>
<rect x="556.12" y="892.93" width="6.48" height="122.89"/>
<rect x="562.59" y="800.95" width="6.48" height="214.88"/>
<rect x="569.07" y="926.14" width="6.48" height="89.68"/>
<rect x="575.55" y="976.60" width="6.48" height="39.23"/>
<rect x="582.03" y="988.23" width="6.48" height="27.60"/>
<rect x="588.51" y="985.46" width="6.48" height="30.37"/>
<rect x="594.98" y="899.63" width="6.48" height="116.20"/>
<rect x="601.46" y="937.23" width="6.48" height="78.59"/>
<rect x="607.94" y="915.25" width="6.48" height="100.57"/>
<rect x="614.42" y="806.63" width="6.48" height="209.20"/>
<rect x="620.90" y="761.65" width="6.48" height="254.17"/>
<rect x="627.37" y="852.42" width="6.48" height="163.41"/>
<rect x="633.85" y="921.41" width="6.48" height="94.42"/>
<rect x="640.33" y="861.35" width="6.48" height="154.48"/>
<rect x="646.81" y="937.03" width="6.48" height="78.79"/>
<rect x="653.29" y="951.10" width="6.48" height="64.73"/>
<rect x="659.76" y="923.37" width="6.48" height="92.46"/>
<rect x="666.24" y="894.22" width="6.48" height="121.61"/>
<rect x="672.72" y="980.05" width="6.48" height="35.78"/>
<rect x="679.20" y="952.32" width="6.48" height="63.51"/>
<rect x="685.68" y="978.29" width="6.48" height="37.54"/>
<rect x="692.15" y="989.18" width="6.48" height="26.65"/>
<rect x="698.63" y="978.83" width="6.48" height="37.00"/>
<rect x="705.11" y="993.64" width="6.48" height="22.18"/>
<rect x="711.59" y="977.34" width="6.48" height="38.48"/>
<rect x="718.07" y="989.65" width="6.48" height="26.17"/>
<rect x="724.54" y="999.05" width="6.48" height="16.77"/>
<rect x="731.02" y="1002.57" width="6.48" height="13.26"/>
<rect x="737.50" y="1004.06" width="6.48" height="11.77"/>
<rect x="743.98" y="1000.34" width="6.48" height="15.49"/>
<rect x="750.46" y="986.00" width="6.48" height="29.83"/>
<rect x="756.93" y="1007.24" width="6.48" height="8.59"/>
<rect x="763.41" y="1009.20" width="6.48" height="6.63"/>
<rect x="769.89" y="1012.92" width="6.48" height="2.91"/>
<rect x="776.37" y="1007.24" width="6.48" height="8.59"/>
<rect x="782.85" y="1003.31" width="6.48" height="12.51"/>
<rect x="789.32" y="1004.26" width="6.48" height="11.57"/>
<rect x="795.80" y="1011.43" width="6.48" height="4.40"/>
<rect x="802.28" y="1014.88" width="6.48" height="0.95"/>
<rect x="808.76" y="1014.88" width="6.48" height="0.95"/>
<rect x="815.24" y="1014.68" width="6.48" height="1.15"/>
<rect x="821.71" y="1013.93" width="6.48" height="1.89"/>
<rect x="828.19" y="1014.88" width="6.48" height="0.95"/>
<rect x="834.67" y="1013.93" width="6.48" height="1.89"/>
</g>
<path class="mj" d="M478.50 1015.83v-14.50M478.50 677.65v14.50M606.50 1015.83v-14.50M606.50 677.65v14.50M734.50 1015.83v-14.50M734.50 677.65v14.50M862.50 1015.83v-14.50M862.50 677.65v14.50M478.38 1015.50h14.50M862.96 1015.50h-14.50M478.38 880.50h14.50M862.96 880.50h-14.50M478.38 745.50h14.50M862.96 745.50h-14.50"/>
<path class="mn" d="M510.50 1015.83v-7.30M510.50 677.65v7.30M542.50 1015.83v-7.30M542.50 677.65v7.30M574.50 1015.83v-7.30M574.50 677.65v7.30M638.50 1015.83v-7.30M638.50 677.65v7.30M670.50 1015.83v-7.30M670.50 677.65v7.30M702.50 1015.83v-7.30M702.50 677.65v7.30M766.50 1015.83v-7.30M766.50 677.65v7.30M798.50 1015.83v-7.30M798.50 677.65v7.30M830.50 1015.83v-7.30M830.50 677.65v7.30M478.38 982.50h7.30M862.96 982.50h-7.30M478.38 948.50h7.30M862.96 948.50h-7.30M478.38 914.50h7.30M862.96 914.50h-7.30M478.38 846.50h7.30M862.96 846.50h-7.30M478.38 812.50h7.30M862.96 812.50h-7.30M478.38 779.50h7.30M862.96 779.50h-7.30M478.38 711.50h7.30M862.96 711.50h-7.30M478.38 677.50h7.30M862.96 677.50h-7.30"/>
<rect class="sp" x="478.38" y="677.65" width="384.58" height="338.18"/>
<text class="n" x="510.58" y="745.15">(12)</text>
<text class="l" transform="translate(619.58 745.15) scale(1.0009 1.000)">[241.05,<tspan dx="4.6">43.45]</tspan></text>
<g class="b">
<rect x="875.92" y="1000.07" width="6.48" height="15.76"/>
<rect x="882.39" y="946.36" width="6.48" height="69.46"/>
<rect x="888.87" y="998.31" width="6.48" height="17.52"/>
<rect x="895.35" y="934.26" width="6.48" height="81.57"/>
<rect x="901.83" y="974.84" width="6.48" height="40.99"/>
<rect x="908.31" y="951.37" width="6.48" height="64.46"/>
<rect x="914.78" y="987.42" width="6.48" height="28.41"/>
<rect x="921.26" y="979.30" width="6.48" height="36.52"/>
<rect x="927.74" y="976.06" width="6.48" height="39.77"/>
<rect x="934.22" y="941.43" width="6.48" height="74.40"/>
<rect x="940.70" y="947.65" width="6.48" height="68.18"/>
<rect x="947.17" y="677.65" width="6.48" height="338.18"/>
<rect x="953.65" y="985.73" width="6.48" height="30.10"/>
<rect x="960.13" y="951.10" width="6.48" height="64.73"/>
<rect x="966.61" y="862.29" width="6.48" height="153.53"/>
<rect x="973.09" y="851.67" width="6.48" height="164.15"/>
<rect x="979.56" y="784.11" width="6.48" height="231.72"/>
<rect x="986.04" y="848.97" width="6.48" height="166.86"/>
<rect x="992.52" y="908.83" width="6.48" height="107.00"/>
<rect x="999.00" y="699.56" width="6.48" height="316.26"/>
<rect x="1005.48" y="799.73" width="6.48" height="216.09"/>
<rect x="1011.95" y="873.66" width="6.48" height="142.17"/>
<rect x="1018.43" y="845.45" width="6.48" height="170.37"/>
<rect x="1024.91" y="865.74" width="6.48" height="150.08"/>
<rect x="1031.39" y="808.39" width="6.48" height="207.44"/>
<rect x="1037.87" y="899.15" width="6.48" height="116.67"/>
<rect x="1044.34" y="869.94" width="6.48" height="145.89"/>
<rect x="1050.82" y="926.61" width="6.48" height="89.21"/>
<rect x="1057.30" y="990.66" width="6.48" height="25.16"/>
<rect x="1063.78" y="962.46" width="6.48" height="53.36"/>
<rect x="1070.26" y="977.07" width="6.48" height="38.75"/>
<rect x="1076.73" y="978.08" width="6.48" height="37.74"/>
<rect x="1083.21" y="982.28" width="6.48" height="33.55"/>
<rect x="1089.69" y="994.38" width="6.48" height="21.44"/>
<rect x="1096.17" y="1008.25" width="6.48" height="7.58"/>
<rect x="1102.65" y="1003.04" width="6.48" height="12.78"/>
<rect x="1109.12" y="968.14" width="6.48" height="47.68"/>
<rect x="1115.60" y="995.87" width="6.48" height="19.95"/>
<rect x="1122.08" y="989.18" width="6.48" height="26.65"/>
<rect x="1128.56" y="1002.30" width="6.48" height="13.53"/>
<rect x="1135.04" y="1010.96" width="6.48" height="4.87"/>
<rect x="1141.51" y="1000.07" width="6.48" height="15.76"/>
<rect x="1147.99" y="1004.26" width="6.48" height="11.57"/>
<rect x="1154.47" y="995.13" width="6.48" height="20.70"/>
<rect x="1160.95" y="1009.20" width="6.48" height="6.63"/>
<rect x="1167.43" y="1009.94" width="6.48" height="5.88"/>
<rect x="1173.90" y="1010.96" width="6.48" height="4.87"/>
<rect x="1180.38" y="1012.44" width="6.48" height="3.38"/>
<rect x="1186.86" y="1012.92" width="6.48" height="2.91"/>
<rect x="1193.34" y="1012.44" width="6.48" height="3.38"/>
<rect x="1199.82" y="1011.70" width="6.48" height="4.13"/>
<rect x="1238.68" y="1014.88" width="6.48" height="0.95"/>
</g>
<path class="mj" d="M862.50 1015.83v-14.50M862.50 677.65v14.50M991.50 1015.83v-14.50M991.50 677.65v14.50M1119.50 1015.83v-14.50M1119.50 677.65v14.50M1247.50 1015.83v-14.50M1247.50 677.65v14.50M862.96 1015.50h14.50M1247.54 1015.50h-14.50M862.96 880.50h14.50M1247.54 880.50h-14.50M862.96 745.50h14.50M1247.54 745.50h-14.50"/>
<path class="mn" d="M895.50 1015.83v-7.30M895.50 677.65v7.30M927.50 1015.83v-7.30M927.50 677.65v7.30M959.50 1015.83v-7.30M959.50 677.65v7.30M1023.50 1015.83v-7.30M1023.50 677.65v7.30M1055.50 1015.83v-7.30M1055.50 677.65v7.30M1087.50 1015.83v-7.30M1087.50 677.65v7.30M1151.50 1015.83v-7.30M1151.50 677.65v7.30M1183.50 1015.83v-7.30M1183.50 677.65v7.30M1215.50 1015.83v-7.30M1215.50 677.65v7.30M862.96 982.50h7.30M1247.54 982.50h-7.30M862.96 948.50h7.30M1247.54 948.50h-7.30M862.96 914.50h7.30M1247.54 914.50h-7.30M862.96 846.50h7.30M1247.54 846.50h-7.30M862.96 812.50h7.30M1247.54 812.50h-7.30M862.96 779.50h7.30M1247.54 779.50h-7.30M862.96 711.50h7.30M1247.54 711.50h-7.30M862.96 677.50h7.30M1247.54 677.50h-7.30"/>
<rect class="sp" x="862.96" y="677.65" width="384.58" height="338.18"/>
<text class="n" x="895.16" y="745.15">(13)</text>
<text class="l" transform="translate(1004.16 745.15) scale(0.9942 1.000)">[245.88,<tspan dx="4.6">43.45]</tspan></text>
<g class="b">
<rect x="1254.02" y="1014.20" width="6.48" height="1.62"/>
<rect x="1260.50" y="1008.45" width="6.48" height="7.37"/>
<rect x="1266.97" y="984.98" width="6.48" height="30.84"/>
<rect x="1279.93" y="977.54" width="6.48" height="38.28"/>
<rect x="1286.41" y="969.43" width="6.48" height="46.40"/>
<rect x="1292.89" y="1004.06" width="6.48" height="11.77"/>
<rect x="1299.36" y="884.82" width="6.48" height="131.01"/>
<rect x="1305.84" y="889.48" width="6.48" height="126.34"/>
<rect x="1312.32" y="973.62" width="6.48" height="42.20"/>
<rect x="1318.80" y="923.64" width="6.48" height="92.19"/>
<rect x="1325.28" y="862.29" width="6.48" height="153.53"/>
<rect x="1331.75" y="839.57" width="6.48" height="176.26"/>
<rect x="1338.23" y="930.06" width="6.48" height="85.76"/>
<rect x="1344.71" y="913.22" width="6.48" height="102.60"/>
<rect x="1351.19" y="797.77" width="6.48" height="218.06"/>
<rect x="1357.67" y="862.29" width="6.48" height="153.53"/>
<rect x="1364.14" y="928.10" width="6.48" height="87.72"/>
<rect x="1370.62" y="921.88" width="6.48" height="93.95"/>
<rect x="1377.10" y="952.32" width="6.48" height="63.51"/>
<rect x="1383.58" y="978.08" width="6.48" height="37.74"/>
<rect x="1390.06" y="985.73" width="6.48" height="30.10"/>
<rect x="1396.53" y="949.34" width="6.48" height="66.49"/>
<rect x="1403.01" y="968.14" width="6.48" height="47.68"/>
<rect x="1409.49" y="786.14" width="6.48" height="229.69"/>
<rect x="1415.97" y="931.55" width="6.48" height="84.27"/>
<rect x="1422.45" y="965.17" width="6.48" height="50.66"/>
<rect x="1428.92" y="947.11" width="6.48" height="68.72"/>
<rect x="1435.40" y="996.35" width="6.48" height="19.48"/>
<rect x="1441.88" y="954.55" width="6.48" height="61.28"/>
<rect x="1448.36" y="916.00" width="6.48" height="99.83"/>
<rect x="1454.84" y="986.94" width="6.48" height="28.88"/>
<rect x="1461.31" y="921.88" width="6.48" height="93.95"/>
<rect x="1467.79" y="973.62" width="6.48" height="42.20"/>
<rect x="1474.27" y="963.20" width="6.48" height="52.62"/>
<rect x="1480.75" y="989.65" width="6.48" height="26.17"/>
<rect x="1487.23" y="991.68" width="6.48" height="24.15"/>
<rect x="1493.70" y="992.15" width="6.48" height="23.67"/>
<rect x="1500.18" y="1003.04" width="6.48" height="12.78"/>
<rect x="1506.66" y="1002.30" width="6.48" height="13.53"/>
<rect x="1513.14" y="997.56" width="6.48" height="18.26"/>
<rect x="1519.62" y="1008.25" width="6.48" height="7.58"/>
<rect x="1526.09" y="989.18" width="6.48" height="26.65"/>
<rect x="1532.57" y="1006.02" width="6.48" height="9.81"/>
<rect x="1539.05" y="1011.70" width="6.48" height="4.13"/>
<rect x="1545.53" y="1011.70" width="6.48" height="4.13"/>
<rect x="1552.01" y="1012.44" width="6.48" height="3.38"/>
<rect x="1558.48" y="1014.68" width="6.48" height="1.15"/>
<rect x="1564.96" y="1008.99" width="6.48" height="6.83"/>
<rect x="1571.44" y="1013.19" width="6.48" height="2.64"/>
<rect x="1577.92" y="1014.68" width="6.48" height="1.15"/>
<rect x="1584.40" y="1014.68" width="6.48" height="1.15"/>
<rect x="1590.87" y="1011.70" width="6.48" height="4.13"/>
<rect x="1597.35" y="1014.68" width="6.48" height="1.15"/>
<rect x="1603.83" y="1013.93" width="6.48" height="1.89"/>
<rect x="1623.26" y="1014.88" width="6.48" height="0.95"/>
</g>
<path class="mj" d="M1247.50 1015.83v-14.50M1247.50 677.65v14.50M1375.50 1015.83v-14.50M1375.50 677.65v14.50M1503.50 1015.83v-14.50M1503.50 677.65v14.50M1632.50 1015.83v-14.50M1632.50 677.65v14.50M1247.54 1015.50h14.50M1632.12 1015.50h-14.50M1247.54 880.50h14.50M1632.12 880.50h-14.50M1247.54 745.50h14.50M1632.12 745.50h-14.50"/>
<path class="mn" d="M1279.50 1015.83v-7.30M1279.50 677.65v7.30M1311.50 1015.83v-7.30M1311.50 677.65v7.30M1343.50 1015.83v-7.30M1343.50 677.65v7.30M1407.50 1015.83v-7.30M1407.50 677.65v7.30M1439.50 1015.83v-7.30M1439.50 677.65v7.30M1471.50 1015.83v-7.30M1471.50 677.65v7.30M1535.50 1015.83v-7.30M1535.50 677.65v7.30M1568.50 1015.83v-7.30M1568.50 677.65v7.30M1600.50 1015.83v-7.30M1600.50 677.65v7.30M1247.54 982.50h7.30M1632.12 982.50h-7.30M1247.54 948.50h7.30M1632.12 948.50h-7.30M1247.54 914.50h7.30M1632.12 914.50h-7.30M1247.54 846.50h7.30M1632.12 846.50h-7.30M1247.54 812.50h7.30M1632.12 812.50h-7.30M1247.54 779.50h7.30M1632.12 779.50h-7.30M1247.54 711.50h7.30M1632.12 711.50h-7.30M1247.54 677.50h7.30M1632.12 677.50h-7.30"/>
<rect class="sp" x="1247.54" y="677.65" width="384.58" height="338.18"/>
<text class="n" x="1279.74" y="745.15">(14)</text>
<text class="l" transform="translate(1388.74 745.15) scale(0.9999 1.000)">[252.50,<tspan dx="4.6">34.50]</tspan></text>
<g class="b">
<rect x="1638.60" y="1013.46" width="6.48" height="2.37"/>
<rect x="1645.08" y="967.20" width="6.48" height="48.63"/>
<rect x="1651.55" y="980.05" width="6.48" height="35.78"/>
<rect x="1658.03" y="932.30" width="6.48" height="83.53"/>
<rect x="1664.51" y="972.13" width="6.48" height="43.69"/>
<rect x="1670.99" y="983.02" width="6.48" height="32.80"/>
<rect x="1677.47" y="911.26" width="6.48" height="104.56"/>
<rect x="1683.94" y="745.56" width="6.48" height="270.27"/>
<rect x="1690.42" y="1004.26" width="6.48" height="11.57"/>
<rect x="1696.90" y="975.31" width="6.48" height="40.51"/>
<rect x="1703.38" y="906.32" width="6.48" height="109.50"/>
<rect x="1709.86" y="990.19" width="6.48" height="25.63"/>
<rect x="1716.33" y="983.22" width="6.48" height="32.60"/>
<rect x="1722.81" y="916.00" width="6.48" height="99.83"/>
<rect x="1729.29" y="993.64" width="6.48" height="22.18"/>
<rect x="1735.77" y="907.07" width="6.48" height="108.76"/>
<rect x="1742.25" y="841.53" width="6.48" height="174.30"/>
<rect x="1748.72" y="955.56" width="6.48" height="60.26"/>
<rect x="1755.20" y="894.22" width="6.48" height="121.61"/>
<rect x="1761.68" y="959.28" width="6.48" height="56.54"/>
<rect x="1768.16" y="963.95" width="6.48" height="51.88"/>
<rect x="1774.64" y="963.20" width="6.48" height="52.62"/>
<rect x="1781.11" y="960.50" width="6.48" height="55.33"/>
<rect x="1787.59" y="954.55" width="6.48" height="61.28"/>
<rect x="1794.07" y="926.14" width="6.48" height="89.68"/>
<rect x="1800.55" y="887.05" width="6.48" height="128.78"/>
<rect x="1807.03" y="969.43" width="6.48" height="46.40"/>
<rect x="1813.50" y="864.05" width="6.48" height="151.77"/>
<rect x="1819.98" y="955.29" width="6.48" height="60.53"/>
<rect x="1826.46" y="983.22" width="6.48" height="32.60"/>
<rect x="1832.94" y="997.56" width="6.48" height="18.26"/>
<rect x="1839.42" y="944.40" width="6.48" height="71.42"/>
<rect x="1845.89" y="974.84" width="6.48" height="40.99"/>
<rect x="1852.37" y="984.98" width="6.48" height="30.84"/>
<rect x="1858.85" y="977.54" width="6.48" height="38.28"/>
<rect x="1865.33" y="983.02" width="6.48" height="32.80"/>
<rect x="1871.81" y="998.31" width="6.48" height="17.52"/>
<rect x="1878.28" y="969.43" width="6.48" height="46.40"/>
<rect x="1884.76" y="989.18" width="6.48" height="26.65"/>
<rect x="1891.24" y="1003.31" width="6.48" height="12.51"/>
<rect x="1897.72" y="1005.27" width="6.48" height="10.55"/>
<rect x="1904.20" y="1005.27" width="6.48" height="10.55"/>
<rect x="1910.67" y="1005.27" width="6.48" height="10.55"/>
<rect x="1917.15" y="995.87" width="6.48" height="19.95"/>
<rect x="1923.63" y="1006.02" width="6.48" height="9.81"/>
<rect x="1930.11" y="1012.44" width="6.48" height="3.38"/>
<rect x="1943.06" y="1014.68" width="6.48" height="1.15"/>
<rect x="1949.54" y="1013.46" width="6.48" height="2.37"/>
<rect x="1975.45" y="1014.88" width="6.48" height="0.95"/>
</g>
<path class="mj" d="M1632.50 1015.83v-14.50M1632.50 677.65v14.50M1760.50 1015.83v-14.50M1760.50 677.65v14.50M1888.50 1015.83v-14.50M1888.50 677.65v14.50M2016.50 1015.83v-14.50M2016.50 677.65v14.50M1632.12 1015.50h14.50M2016.70 1015.50h-14.50M1632.12 880.50h14.50M2016.70 880.50h-14.50M1632.12 745.50h14.50M2016.70 745.50h-14.50"/>
<path class="mn" d="M1664.50 1015.83v-7.30M1664.50 677.65v7.30M1696.50 1015.83v-7.30M1696.50 677.65v7.30M1728.50 1015.83v-7.30M1728.50 677.65v7.30M1792.50 1015.83v-7.30M1792.50 677.65v7.30M1824.50 1015.83v-7.30M1824.50 677.65v7.30M1856.50 1015.83v-7.30M1856.50 677.65v7.30M1920.50 1015.83v-7.30M1920.50 677.65v7.30M1952.50 1015.83v-7.30M1952.50 677.65v7.30M1984.50 1015.83v-7.30M1984.50 677.65v7.30M1632.12 982.50h7.30M2016.70 982.50h-7.30M1632.12 948.50h7.30M2016.70 948.50h-7.30M1632.12 914.50h7.30M2016.70 914.50h-7.30M1632.12 846.50h7.30M2016.70 846.50h-7.30M1632.12 812.50h7.30M2016.70 812.50h-7.30M1632.12 779.50h7.30M2016.70 779.50h-7.30M1632.12 711.50h7.30M2016.70 711.50h-7.30M1632.12 677.50h7.30M2016.70 677.50h-7.30"/>
<rect class="sp" x="1632.12" y="677.65" width="384.58" height="338.18"/>
<text class="n" x="1664.32" y="745.15">(15)</text>
<text class="l" transform="translate(1773.32 745.15) scale(0.9898 1.000)">[269.73,<tspan dx="4.6">66.02]</tspan></text>
<g class="b">
<rect x="100.28" y="1350.14" width="6.48" height="3.86"/>
<rect x="106.76" y="1344.73" width="6.48" height="9.27"/>
<rect x="113.23" y="1344.26" width="6.48" height="9.74"/>
<rect x="119.71" y="1349.67" width="6.48" height="4.33"/>
<rect x="126.19" y="1344.26" width="6.48" height="9.74"/>
<rect x="132.67" y="1291.30" width="6.48" height="62.70"/>
<rect x="139.15" y="1129.52" width="6.48" height="224.48"/>
<rect x="145.62" y="1307.40" width="6.48" height="46.60"/>
<rect x="152.10" y="1330.40" width="6.48" height="23.60"/>
<rect x="158.58" y="1337.09" width="6.48" height="16.91"/>
<rect x="165.06" y="1298.95" width="6.48" height="55.05"/>
<rect x="171.54" y="1231.17" width="6.48" height="122.83"/>
<rect x="178.01" y="1215.15" width="6.48" height="138.85"/>
<rect x="184.49" y="1193.37" width="6.48" height="160.63"/>
<rect x="190.97" y="1329.18" width="6.48" height="24.82"/>
<rect x="197.45" y="1304.63" width="6.48" height="49.37"/>
<rect x="203.93" y="1298.95" width="6.48" height="55.05"/>
<rect x="210.40" y="1199.32" width="6.48" height="154.68"/>
<rect x="216.88" y="1296.51" width="6.48" height="57.49"/>
<rect x="223.36" y="1291.30" width="6.48" height="62.70"/>
<rect x="229.84" y="1242.61" width="6.48" height="111.39"/>
<rect x="236.32" y="1105.31" width="6.48" height="248.69"/>
<rect x="242.79" y="1116.67" width="6.48" height="237.33"/>
<rect x="249.27" y="1196.55" width="6.48" height="157.45"/>
<rect x="255.75" y="1167.67" width="6.48" height="186.33"/>
<rect x="262.23" y="1246.80" width="6.48" height="107.20"/>
<rect x="268.71" y="1015.83" width="6.48" height="338.18"/>
<rect x="275.18" y="1275.00" width="6.48" height="79.00"/>
<rect x="281.66" y="1323.70" width="6.48" height="30.30"/>
<rect x="288.14" y="1264.38" width="6.48" height="89.62"/>
<rect x="294.62" y="1236.38" width="6.48" height="117.62"/>
<rect x="301.10" y="1270.27" width="6.48" height="83.73"/>
<rect x="307.57" y="1292.32" width="6.48" height="61.68"/>
<rect x="314.05" y="1338.78" width="6.48" height="15.22"/>
<rect x="320.53" y="1290.56" width="6.48" height="63.44"/>
<rect x="327.01" y="1321.74" width="6.48" height="32.26"/>
<rect x="333.49" y="1331.14" width="6.48" height="22.86"/>
<rect x="339.96" y="1332.36" width="6.48" height="21.64"/>
<rect x="346.44" y="1328.43" width="6.48" height="25.57"/>
<rect x="352.92" y="1336.35" width="6.48" height="17.65"/>
<rect x="359.40" y="1295.29" width="6.48" height="58.71"/>
<rect x="365.88" y="1325.66" width="6.48" height="28.34"/>
<rect x="372.35" y="1346.22" width="6.48" height="7.78"/>
<rect x="378.83" y="1345.48" width="6.48" height="8.52"/>
<rect x="385.31" y="1344.73" width="6.48" height="9.27"/>
<rect x="391.79" y="1340.00" width="6.48" height="14.00"/>
<rect x="398.27" y="1343.25" width="6.48" height="10.75"/>
<rect x="404.74" y="1348.93" width="6.48" height="5.07"/>
<rect x="411.22" y="1350.42" width="6.48" height="3.58"/>
<rect x="417.70" y="1345.48" width="6.48" height="8.52"/>
<rect x="450.09" y="1350.69" width="6.48" height="3.31"/>
<rect x="463.05" y="1352.92" width="6.48" height="1.08"/>
</g>
<path class="mj" d="M93.50 1354.00v-14.50M93.50 1015.83v14.50M221.50 1354.00v-14.50M221.50 1015.83v14.50M350.50 1354.00v-14.50M350.50 1015.83v14.50M478.50 1354.00v-14.50M478.50 1015.83v14.50M93.80 1354.50h14.50M478.38 1354.50h-14.50M93.80 1218.50h14.50M478.38 1218.50h-14.50M93.80 1083.50h14.50M478.38 1083.50h-14.50"/>
<path class="mn" d="M125.50 1354.00v-7.30M125.50 1015.83v7.30M157.50 1354.00v-7.30M157.50 1015.83v7.30M189.50 1354.00v-7.30M189.50 1015.83v7.30M254.50 1354.00v-7.30M254.50 1015.83v7.30M286.50 1354.00v-7.30M286.50 1015.83v7.30M318.50 1354.00v-7.30M318.50 1015.83v7.30M382.50 1354.00v-7.30M382.50 1015.83v7.30M414.50 1354.00v-7.30M414.50 1015.83v7.30M446.50 1354.00v-7.30M446.50 1015.83v7.30M93.80 1320.50h7.30M478.38 1320.50h-7.30M93.80 1286.50h7.30M478.38 1286.50h-7.30M93.80 1252.50h7.30M478.38 1252.50h-7.30M93.80 1184.50h7.30M478.38 1184.50h-7.30M93.80 1151.50h7.30M478.38 1151.50h-7.30M93.80 1117.50h7.30M478.38 1117.50h-7.30M93.80 1049.50h7.30M478.38 1049.50h-7.30M93.80 1015.50h7.30M478.38 1015.50h-7.30"/>
<rect class="sp" x="93.80" y="1015.83" width="384.58" height="338.18"/>
<text class="n" x="126.00" y="1083.33">(16)</text>
<text class="l" transform="translate(235.00 1083.23) scale(0.9818 1.000)">[194.75,<tspan dx="4.6">24.70]</tspan></text>
<text class="t" text-anchor="end" x="88.80" y="1365.10">0</text>
<text class="t" text-anchor="end" x="88.80" y="1229.83">200</text>
<text class="t" text-anchor="end" x="88.80" y="1094.56">400</text>
<text class="t" text-anchor="middle" transform="translate(22.00 1184.91) rotate(-90)">N(z)</text>
<text class="t" text-anchor="middle" x="221.99" y="1380.60">0.2</text>
<text class="t" text-anchor="middle" x="350.19" y="1380.60">0.4</text>
<text class="t" text-anchor="middle" x="478.38" y="1380.60">0.6</text>
<text class="t" text-anchor="middle" x="286.09" y="1415.00">z</text>
<g class="b">
<rect x="484.86" y="1352.51" width="6.48" height="1.49"/>
<rect x="491.34" y="1318.36" width="6.48" height="35.64"/>
<rect x="497.81" y="1331.27" width="6.48" height="22.73"/>
<rect x="504.29" y="1320.59" width="6.48" height="33.41"/>
<rect x="510.77" y="1247.41" width="6.48" height="106.59"/>
<rect x="517.25" y="1334.45" width="6.48" height="19.55"/>
<rect x="523.73" y="1298.13" width="6.48" height="55.87"/>
<rect x="530.20" y="1273.85" width="6.48" height="80.15"/>
<rect x="536.68" y="1321.13" width="6.48" height="32.87"/>
<rect x="543.16" y="1289.21" width="6.48" height="64.79"/>
<rect x="549.64" y="1135.13" width="6.48" height="218.87"/>
<rect x="556.12" y="1117.07" width="6.48" height="236.93"/>
<rect x="562.59" y="1015.83" width="6.48" height="338.18"/>
<rect x="569.07" y="1088.13" width="6.48" height="265.87"/>
<rect x="575.55" y="1278.05" width="6.48" height="75.95"/>
<rect x="582.03" y="1287.99" width="6.48" height="66.01"/>
<rect x="588.51" y="1162.32" width="6.48" height="191.68"/>
<rect x="594.98" y="1085.89" width="6.48" height="268.11"/>
<rect x="601.46" y="1272.16" width="6.48" height="81.84"/>
<rect x="607.94" y="1269.93" width="6.48" height="84.07"/>
<rect x="614.42" y="1320.59" width="6.48" height="33.41"/>
<rect x="620.90" y="1305.78" width="6.48" height="48.22"/>
<rect x="627.37" y="1303.54" width="6.48" height="50.46"/>
<rect x="633.85" y="1312.20" width="6.48" height="41.80"/>
<rect x="640.33" y="1152.18" width="6.48" height="201.82"/>
<rect x="646.81" y="1235.77" width="6.48" height="118.23"/>
<rect x="653.29" y="1263.71" width="6.48" height="90.29"/>
<rect x="659.76" y="1266.95" width="6.48" height="87.05"/>
<rect x="666.24" y="1296.10" width="6.48" height="57.90"/>
<rect x="672.72" y="1290.42" width="6.48" height="63.58"/>
<rect x="679.20" y="1303.54" width="6.48" height="50.46"/>
<rect x="685.68" y="1343.11" width="6.48" height="10.89"/>
<rect x="692.15" y="1340.13" width="6.48" height="13.87"/>
<rect x="698.63" y="1326.54" width="6.48" height="27.46"/>
<rect x="705.11" y="1331.27" width="6.48" height="22.73"/>
<rect x="711.59" y="1330.53" width="6.48" height="23.47"/>
<rect x="718.07" y="1277.10" width="6.48" height="76.90"/>
<rect x="724.54" y="1345.82" width="6.48" height="8.18"/>
<rect x="731.02" y="1343.38" width="6.48" height="10.62"/>
<rect x="737.50" y="1344.60" width="6.48" height="9.40"/>
<rect x="743.98" y="1337.16" width="6.48" height="16.84"/>
<rect x="750.46" y="1333.44" width="6.48" height="20.56"/>
<rect x="756.93" y="1350.55" width="6.48" height="3.45"/>
<rect x="763.41" y="1348.05" width="6.48" height="5.95"/>
<rect x="769.89" y="1348.05" width="6.48" height="5.95"/>
<rect x="776.37" y="1335.47" width="6.48" height="18.53"/>
<rect x="782.85" y="1350.55" width="6.48" height="3.45"/>
<rect x="789.32" y="1350.28" width="6.48" height="3.72"/>
<rect x="795.80" y="1351.02" width="6.48" height="2.98"/>
<rect x="802.28" y="1348.79" width="6.48" height="5.21"/>
<rect x="808.76" y="1352.24" width="6.48" height="1.76"/>
<rect x="821.71" y="1352.78" width="6.48" height="1.22"/>
<rect x="828.19" y="1352.78" width="6.48" height="1.22"/>
<rect x="834.67" y="1350.75" width="6.48" height="3.25"/>
<rect x="841.15" y="1352.78" width="6.48" height="1.22"/>
<rect x="847.63" y="1352.51" width="6.48" height="1.49"/>
</g>
<path class="mj" d="M478.50 1354.00v-14.50M478.50 1015.83v14.50M606.50 1354.00v-14.50M606.50 1015.83v14.50M734.50 1354.00v-14.50M734.50 1015.83v14.50M862.50 1354.00v-14.50M862.50 1015.83v14.50M478.38 1354.50h14.50M862.96 1354.50h-14.50M478.38 1218.50h14.50M862.96 1218.50h-14.50M478.38 1083.50h14.50M862.96 1083.50h-14.50"/>
<path class="mn" d="M510.50 1354.00v-7.30M510.50 1015.83v7.30M542.50 1354.00v-7.30M542.50 1015.83v7.30M574.50 1354.00v-7.30M574.50 1015.83v7.30M638.50 1354.00v-7.30M638.50 1015.83v7.30M670.50 1354.00v-7.30M670.50 1015.83v7.30M702.50 1354.00v-7.30M702.50 1015.83v7.30M766.50 1354.00v-7.30M766.50 1015.83v7.30M798.50 1354.00v-7.30M798.50 1015.83v7.30M830.50 1354.00v-7.30M830.50 1015.83v7.30M478.38 1320.50h7.30M862.96 1320.50h-7.30M478.38 1286.50h7.30M862.96 1286.50h-7.30M478.38 1252.50h7.30M862.96 1252.50h-7.30M478.38 1184.50h7.30M862.96 1184.50h-7.30M478.38 1151.50h7.30M862.96 1151.50h-7.30M478.38 1117.50h7.30M862.96 1117.50h-7.30M478.38 1049.50h7.30M862.96 1049.50h-7.30M478.38 1015.50h7.30M862.96 1015.50h-7.30"/>
<rect class="sp" x="478.38" y="1015.83" width="384.58" height="338.18"/>
<text class="n" x="510.58" y="1083.33">(17)</text>
<text class="l" transform="translate(619.58 1083.23) scale(0.9961 1.000)">[212.80,<tspan dx="10.1">−</tspan><tspan dx="5.2">0.60]</tspan></text>
<text class="t" text-anchor="middle" x="606.57" y="1380.60">0.2</text>
<text class="t" text-anchor="middle" x="734.77" y="1380.60">0.4</text>
<text class="t" text-anchor="middle" x="862.96" y="1380.60">0.6</text>
<text class="t" text-anchor="middle" x="670.67" y="1415.00">z</text>
<g class="b">
<rect x="869.44" y="1348.79" width="6.48" height="5.21"/>
<rect x="875.92" y="1230.57" width="6.48" height="123.43"/>
<rect x="882.39" y="1305.78" width="6.48" height="48.22"/>
<rect x="888.87" y="1319.37" width="6.48" height="34.63"/>
<rect x="895.35" y="1343.38" width="6.48" height="10.62"/>
<rect x="901.83" y="1302.06" width="6.48" height="51.94"/>
<rect x="908.31" y="1310.24" width="6.48" height="43.76"/>
<rect x="914.78" y="1183.83" width="6.48" height="170.17"/>
<rect x="921.26" y="1302.80" width="6.48" height="51.20"/>
<rect x="927.74" y="1334.18" width="6.48" height="19.82"/>
<rect x="934.22" y="1270.40" width="6.48" height="83.60"/>
<rect x="940.70" y="1335.94" width="6.48" height="18.06"/>
<rect x="947.17" y="1228.60" width="6.48" height="125.40"/>
<rect x="953.65" y="1261.75" width="6.48" height="92.25"/>
<rect x="960.13" y="1298.13" width="6.48" height="55.87"/>
<rect x="966.61" y="1309.50" width="6.48" height="44.50"/>
<rect x="973.09" y="1244.90" width="6.48" height="109.10"/>
<rect x="979.56" y="1204.86" width="6.48" height="149.14"/>
<rect x="986.04" y="1096.51" width="6.48" height="257.49"/>
<rect x="992.52" y="1311.46" width="6.48" height="42.54"/>
<rect x="999.00" y="1297.59" width="6.48" height="56.41"/>
<rect x="1005.48" y="1325.80" width="6.48" height="28.20"/>
<rect x="1011.95" y="1267.90" width="6.48" height="86.10"/>
<rect x="1018.43" y="1307.53" width="6.48" height="46.47"/>
<rect x="1024.91" y="1179.64" width="6.48" height="174.36"/>
<rect x="1031.39" y="1254.10" width="6.48" height="99.90"/>
<rect x="1037.87" y="1299.82" width="6.48" height="54.18"/>
<rect x="1044.34" y="1308.21" width="6.48" height="45.79"/>
<rect x="1050.82" y="1292.93" width="6.48" height="61.07"/>
<rect x="1057.30" y="1310.98" width="6.48" height="43.02"/>
<rect x="1063.78" y="1284.74" width="6.48" height="69.26"/>
<rect x="1070.26" y="1268.44" width="6.48" height="85.56"/>
<rect x="1076.73" y="1314.43" width="6.48" height="39.57"/>
<rect x="1083.21" y="1342.37" width="6.48" height="11.63"/>
<rect x="1089.69" y="1324.58" width="6.48" height="29.42"/>
<rect x="1096.17" y="1315.18" width="6.48" height="38.82"/>
<rect x="1102.65" y="1325.80" width="6.48" height="28.20"/>
<rect x="1109.12" y="1305.78" width="6.48" height="48.22"/>
<rect x="1115.60" y="1325.80" width="6.48" height="28.20"/>
<rect x="1122.08" y="1311.19" width="6.48" height="42.81"/>
<rect x="1128.56" y="1322.62" width="6.48" height="31.38"/>
<rect x="1135.04" y="1317.88" width="6.48" height="36.12"/>
<rect x="1141.51" y="1334.45" width="6.48" height="19.55"/>
<rect x="1147.99" y="1341.35" width="6.48" height="12.65"/>
<rect x="1154.47" y="1347.10" width="6.48" height="6.90"/>
<rect x="1160.95" y="1348.32" width="6.48" height="5.68"/>
<rect x="1173.90" y="1349.81" width="6.48" height="4.19"/>
<rect x="1180.38" y="1349.33" width="6.48" height="4.67"/>
<rect x="1186.86" y="1350.28" width="6.48" height="3.72"/>
<rect x="1193.34" y="1348.79" width="6.48" height="5.21"/>
<rect x="1232.21" y="1352.99" width="6.48" height="1.01"/>
</g>
<path class="mj" d="M862.50 1354.00v-14.50M862.50 1015.83v14.50M991.50 1354.00v-14.50M991.50 1015.83v14.50M1119.50 1354.00v-14.50M1119.50 1015.83v14.50M1247.50 1354.00v-14.50M1247.50 1015.83v14.50M862.96 1354.50h14.50M1247.54 1354.50h-14.50M862.96 1218.50h14.50M1247.54 1218.50h-14.50M862.96 1083.50h14.50M1247.54 1083.50h-14.50"/>
<path class="mn" d="M895.50 1354.00v-7.30M895.50 1015.83v7.30M927.50 1354.00v-7.30M927.50 1015.83v7.30M959.50 1354.00v-7.30M959.50 1015.83v7.30M1023.50 1354.00v-7.30M1023.50 1015.83v7.30M1055.50 1354.00v-7.30M1055.50 1015.83v7.30M1087.50 1354.00v-7.30M1087.50 1015.83v7.30M1151.50 1354.00v-7.30M1151.50 1015.83v7.30M1183.50 1354.00v-7.30M1183.50 1015.83v7.30M1215.50 1354.00v-7.30M1215.50 1015.83v7.30M862.96 1320.50h7.30M1247.54 1320.50h-7.30M862.96 1286.50h7.30M1247.54 1286.50h-7.30M862.96 1252.50h7.30M1247.54 1252.50h-7.30M862.96 1184.50h7.30M1247.54 1184.50h-7.30M862.96 1151.50h7.30M1247.54 1151.50h-7.30M862.96 1117.50h7.30M1247.54 1117.50h-7.30M862.96 1049.50h7.30M1247.54 1049.50h-7.30M862.96 1015.50h7.30M1247.54 1015.50h-7.30"/>
<rect class="sp" x="862.96" y="1015.83" width="384.58" height="338.18"/>
<text class="n" x="895.16" y="1083.33">(18)</text>
<text class="l" transform="translate(1004.16 1083.23) scale(0.9917 1.000)">[269.73,<tspan dx="4.6">62.52]</tspan></text>
<text class="t" text-anchor="middle" x="991.15" y="1380.60">0.2</text>
<text class="t" text-anchor="middle" x="1119.35" y="1380.60">0.4</text>
<text class="t" text-anchor="middle" x="1247.54" y="1380.60">0.6</text>
<text class="t" text-anchor="middle" x="1055.25" y="1415.00">z</text>
<g class="b">
<rect x="1254.02" y="1342.84" width="6.48" height="11.16"/>
<rect x="1260.50" y="1344.13" width="6.48" height="9.87"/>
<rect x="1266.97" y="1282.51" width="6.48" height="71.49"/>
<rect x="1273.45" y="1340.13" width="6.48" height="13.87"/>
<rect x="1279.93" y="1313.69" width="6.48" height="40.31"/>
<rect x="1286.41" y="1300.84" width="6.48" height="53.16"/>
<rect x="1292.89" y="1271.42" width="6.48" height="82.58"/>
<rect x="1299.36" y="1332.49" width="6.48" height="21.51"/>
<rect x="1305.84" y="1297.59" width="6.48" height="56.41"/>
<rect x="1312.32" y="1262.49" width="6.48" height="91.51"/>
<rect x="1318.80" y="1283.25" width="6.48" height="70.75"/>
<rect x="1325.28" y="1243.42" width="6.48" height="110.58"/>
<rect x="1331.75" y="1278.79" width="6.48" height="75.21"/>
<rect x="1338.23" y="1158.13" width="6.48" height="195.87"/>
<rect x="1344.71" y="1300.84" width="6.48" height="53.16"/>
<rect x="1351.19" y="1303.27" width="6.48" height="50.73"/>
<rect x="1357.67" y="1281.29" width="6.48" height="72.71"/>
<rect x="1364.14" y="1314.91" width="6.48" height="39.09"/>
<rect x="1370.62" y="1189.78" width="6.48" height="164.22"/>
<rect x="1377.10" y="1277.10" width="6.48" height="76.90"/>
<rect x="1383.58" y="1200.87" width="6.48" height="153.13"/>
<rect x="1390.06" y="1309.50" width="6.48" height="44.50"/>
<rect x="1396.53" y="1208.31" width="6.48" height="145.69"/>
<rect x="1403.01" y="1188.02" width="6.48" height="165.98"/>
<rect x="1409.49" y="1254.85" width="6.48" height="99.15"/>
<rect x="1415.97" y="1187.28" width="6.48" height="166.72"/>
<rect x="1422.45" y="1290.69" width="6.48" height="63.31"/>
<rect x="1428.92" y="1316.12" width="6.48" height="37.88"/>
<rect x="1435.40" y="1275.81" width="6.48" height="78.19"/>
<rect x="1441.88" y="1299.08" width="6.48" height="54.92"/>
<rect x="1448.36" y="1329.79" width="6.48" height="24.21"/>
<rect x="1454.84" y="1324.58" width="6.48" height="29.42"/>
<rect x="1461.31" y="1325.05" width="6.48" height="28.95"/>
<rect x="1467.79" y="1321.87" width="6.48" height="32.13"/>
<rect x="1474.27" y="1288.19" width="6.48" height="65.81"/>
<rect x="1480.75" y="1316.12" width="6.48" height="37.88"/>
<rect x="1487.23" y="1296.10" width="6.48" height="57.90"/>
<rect x="1493.70" y="1342.64" width="6.48" height="11.36"/>
<rect x="1500.18" y="1331.27" width="6.48" height="22.73"/>
<rect x="1506.66" y="1348.32" width="6.48" height="5.68"/>
<rect x="1513.14" y="1353.66" width="6.48" height="0.34"/>
<rect x="1519.62" y="1346.09" width="6.48" height="7.91"/>
<rect x="1526.09" y="1342.64" width="6.48" height="11.36"/>
<rect x="1532.57" y="1343.11" width="6.48" height="10.89"/>
<rect x="1539.05" y="1350.75" width="6.48" height="3.25"/>
<rect x="1545.53" y="1349.81" width="6.48" height="4.19"/>
<rect x="1552.01" y="1350.01" width="6.48" height="3.99"/>
<rect x="1558.48" y="1349.54" width="6.48" height="4.46"/>
<rect x="1564.96" y="1351.50" width="6.48" height="2.50"/>
<rect x="1571.44" y="1352.99" width="6.48" height="1.01"/>
<rect x="1577.92" y="1352.78" width="6.48" height="1.22"/>
<rect x="1584.40" y="1352.99" width="6.48" height="1.01"/>
<rect x="1590.87" y="1352.78" width="6.48" height="1.22"/>
<rect x="1597.35" y="1352.51" width="6.48" height="1.49"/>
<rect x="1603.83" y="1352.99" width="6.48" height="1.01"/>
</g>
<path class="mj" d="M1247.50 1354.00v-14.50M1247.50 1015.83v14.50M1375.50 1354.00v-14.50M1375.50 1015.83v14.50M1503.50 1354.00v-14.50M1503.50 1015.83v14.50M1632.50 1354.00v-14.50M1632.50 1015.83v14.50M1247.54 1354.50h14.50M1632.12 1354.50h-14.50M1247.54 1218.50h14.50M1632.12 1218.50h-14.50M1247.54 1083.50h14.50M1632.12 1083.50h-14.50"/>
<path class="mn" d="M1279.50 1354.00v-7.30M1279.50 1015.83v7.30M1311.50 1354.00v-7.30M1311.50 1015.83v7.30M1343.50 1354.00v-7.30M1343.50 1015.83v7.30M1407.50 1354.00v-7.30M1407.50 1015.83v7.30M1439.50 1354.00v-7.30M1439.50 1015.83v7.30M1471.50 1354.00v-7.30M1471.50 1015.83v7.30M1535.50 1354.00v-7.30M1535.50 1015.83v7.30M1568.50 1354.00v-7.30M1568.50 1015.83v7.30M1600.50 1354.00v-7.30M1600.50 1015.83v7.30M1247.54 1320.50h7.30M1632.12 1320.50h-7.30M1247.54 1286.50h7.30M1632.12 1286.50h-7.30M1247.54 1252.50h7.30M1632.12 1252.50h-7.30M1247.54 1184.50h7.30M1632.12 1184.50h-7.30M1247.54 1151.50h7.30M1632.12 1151.50h-7.30M1247.54 1117.50h7.30M1632.12 1117.50h-7.30M1247.54 1049.50h7.30M1632.12 1049.50h-7.30M1247.54 1015.50h7.30M1632.12 1015.50h-7.30"/>
<rect class="sp" x="1247.54" y="1015.83" width="384.58" height="338.18"/>
<text class="n" x="1279.74" y="1083.33">(19)</text>
<text class="l" transform="translate(1388.74 1083.23) scale(0.9999 1.000)">[236.10,<tspan dx="4.6">43.45]</tspan></text>
<text class="t" text-anchor="middle" x="1375.73" y="1380.60">0.2</text>
<text class="t" text-anchor="middle" x="1503.93" y="1380.60">0.4</text>
<text class="t" text-anchor="middle" x="1632.12" y="1380.60">0.6</text>
<text class="t" text-anchor="middle" x="1439.83" y="1415.00">z</text>
<g class="b">
<rect x="1632.12" y="1349.81" width="6.48" height="4.19"/>
<rect x="1645.08" y="1331.48" width="6.48" height="22.52"/>
<rect x="1651.55" y="1324.58" width="6.48" height="29.42"/>
<rect x="1658.03" y="1315.92" width="6.48" height="38.08"/>
<rect x="1664.51" y="1341.15" width="6.48" height="12.85"/>
<rect x="1670.99" y="1291.44" width="6.48" height="62.56"/>
<rect x="1677.47" y="1253.56" width="6.48" height="100.44"/>
<rect x="1683.94" y="1261.75" width="6.48" height="92.25"/>
<rect x="1690.42" y="1082.92" width="6.48" height="271.08"/>
<rect x="1696.90" y="1169.22" width="6.48" height="184.78"/>
<rect x="1703.38" y="1325.80" width="6.48" height="28.20"/>
<rect x="1709.86" y="1041.12" width="6.48" height="312.88"/>
<rect x="1716.33" y="1299.08" width="6.48" height="54.92"/>
<rect x="1722.81" y="1306.52" width="6.48" height="47.48"/>
<rect x="1729.29" y="1323.83" width="6.48" height="30.17"/>
<rect x="1735.77" y="1188.77" width="6.48" height="165.23"/>
<rect x="1742.25" y="1273.11" width="6.48" height="80.89"/>
<rect x="1748.72" y="1210.55" width="6.48" height="143.45"/>
<rect x="1755.20" y="1269.39" width="6.48" height="84.61"/>
<rect x="1761.68" y="1289.21" width="6.48" height="64.79"/>
<rect x="1768.16" y="1015.83" width="6.48" height="338.18"/>
<rect x="1774.64" y="1222.38" width="6.48" height="131.62"/>
<rect x="1781.11" y="1320.11" width="6.48" height="33.89"/>
<rect x="1787.59" y="1259.51" width="6.48" height="94.49"/>
<rect x="1794.07" y="1285.49" width="6.48" height="68.51"/>
<rect x="1800.55" y="1283.73" width="6.48" height="70.27"/>
<rect x="1807.03" y="1316.39" width="6.48" height="37.61"/>
<rect x="1813.50" y="1327.76" width="6.48" height="26.24"/>
<rect x="1819.98" y="1320.59" width="6.48" height="33.41"/>
<rect x="1826.46" y="1218.46" width="6.48" height="135.54"/>
<rect x="1832.94" y="1312.47" width="6.48" height="41.53"/>
<rect x="1839.42" y="1298.13" width="6.48" height="55.87"/>
<rect x="1845.89" y="1290.90" width="6.48" height="63.10"/>
<rect x="1852.37" y="1248.90" width="6.48" height="105.10"/>
<rect x="1858.85" y="1271.42" width="6.48" height="82.58"/>
<rect x="1865.33" y="1272.16" width="6.48" height="81.84"/>
<rect x="1871.81" y="1323.36" width="6.48" height="30.64"/>
<rect x="1878.28" y="1343.38" width="6.48" height="10.62"/>
<rect x="1884.76" y="1340.41" width="6.48" height="13.59"/>
<rect x="1891.24" y="1343.38" width="6.48" height="10.62"/>
<rect x="1897.72" y="1341.35" width="6.48" height="12.65"/>
<rect x="1904.20" y="1320.59" width="6.48" height="33.41"/>
<rect x="1910.67" y="1342.37" width="6.48" height="11.63"/>
<rect x="1917.15" y="1350.55" width="6.48" height="3.45"/>
<rect x="1930.11" y="1343.38" width="6.48" height="10.62"/>
<rect x="1936.59" y="1346.36" width="6.48" height="7.64"/>
<rect x="1943.06" y="1350.55" width="6.48" height="3.45"/>
<rect x="1949.54" y="1348.05" width="6.48" height="5.95"/>
<rect x="1956.02" y="1352.51" width="6.48" height="1.49"/>
<rect x="1962.50" y="1351.77" width="6.48" height="2.23"/>
<rect x="1968.98" y="1352.78" width="6.48" height="1.22"/>
<rect x="1975.45" y="1351.77" width="6.48" height="2.23"/>
<rect x="1981.93" y="1352.99" width="6.48" height="1.01"/>
</g>
<path class="mj" d="M1632.50 1354.00v-14.50M1632.50 1015.83v14.50M1760.50 1354.00v-14.50M1760.50 1015.83v14.50M1888.50 1354.00v-14.50M1888.50 1015.83v14.50M2016.50 1354.00v-14.50M2016.50 1015.83v14.50M1632.12 1354.50h14.50M2016.70 1354.50h-14.50M1632.12 1218.50h14.50M2016.70 1218.50h-14.50M1632.12 1083.50h14.50M2016.70 1083.50h-14.50"/>
<path class="mn" d="M1664.50 1354.00v-7.30M1664.50 1015.83v7.30M1696.50 1354.00v-7.30M1696.50 1015.83v7.30M1728.50 1354.00v-7.30M1728.50 1015.83v7.30M1792.50 1354.00v-7.30M1792.50 1015.83v7.30M1824.50 1354.00v-7.30M1824.50 1015.83v7.30M1856.50 1354.00v-7.30M1856.50 1015.83v7.30M1920.50 1354.00v-7.30M1920.50 1015.83v7.30M1952.50 1354.00v-7.30M1952.50 1015.83v7.30M1984.50 1354.00v-7.30M1984.50 1015.83v7.30M1632.12 1320.50h7.30M2016.70 1320.50h-7.30M1632.12 1286.50h7.30M2016.70 1286.50h-7.30M1632.12 1252.50h7.30M2016.70 1252.50h-7.30M1632.12 1184.50h7.30M2016.70 1184.50h-7.30M1632.12 1151.50h7.30M2016.70 1151.50h-7.30M1632.12 1117.50h7.30M2016.70 1117.50h-7.30M1632.12 1049.50h7.30M2016.70 1049.50h-7.30M1632.12 1015.50h7.30M2016.70 1015.50h-7.30"/>
<rect class="sp" x="1632.12" y="1015.83" width="384.58" height="338.18"/>
<text class="n" x="1664.32" y="1083.33">(20)</text>
<text class="l" transform="translate(1773.32 1083.23) scale(1.0045 1.000)">[150.10,<tspan dx="4.6">2.18]</tspan></text>
<text class="t" text-anchor="middle" x="1760.31" y="1380.60">0.2</text>
<text class="t" text-anchor="middle" x="1888.51" y="1380.60">0.4</text>
<text class="t" text-anchor="middle" x="2016.70" y="1380.60">0.6</text>
<text class="t" text-anchor="middle" x="1824.41" y="1415.00">z</text>
<text class="l" x="1375.50" y="136.80">Coma cluster</text>
<path d="M1361.9 149.5L1289.9 189.4" stroke="#000" stroke-width="7" fill="none"/>
<path d="M1273.8 198.8L1285.1 181L1294.8 197.7Z" fill="#000"/>
</svg></body></html>
